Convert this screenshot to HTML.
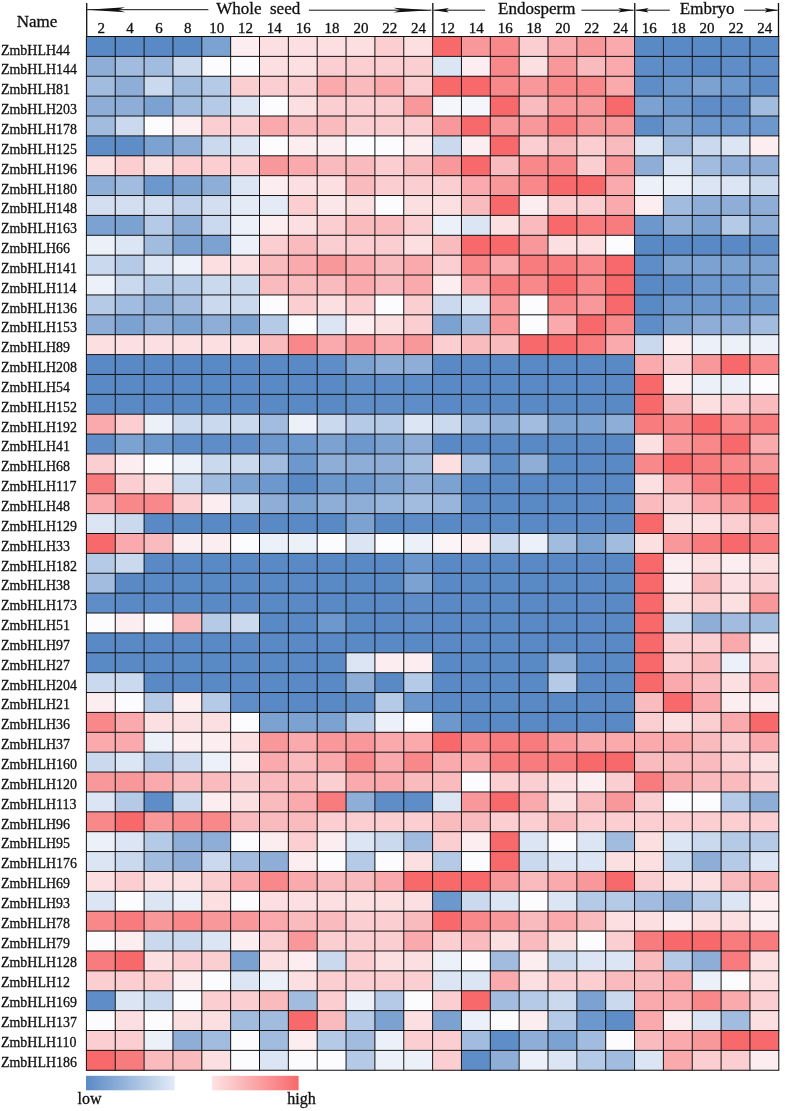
<!DOCTYPE html>
<html><head><meta charset="utf-8"><title>ZmbHLH expression heatmap</title>
<style>
html,body{margin:0;padding:0;background:#fff;}
body{width:785px;height:1111px;overflow:hidden;position:relative;font-family:"Liberation Serif","Times New Roman",serif;color:#111;}
svg{position:absolute;left:0;top:0;display:block;}
text{font-family:"Liberation Serif","Times New Roman",serif;fill:#111;stroke:#111;stroke-width:0.3px;}
.rl{font-size:15.1px;}
.hn{font-size:15px;text-anchor:middle;}
.gl{font-size:17px;}
.lg{font-size:16px;}
</style></head><body>
<svg width="785" height="1111" viewBox="0 0 785 1111">
<defs>
<linearGradient id="gb" x1="0" x2="1" y1="0" y2="0"><stop offset="0" stop-color="#5a8ac6"/><stop offset="1" stop-color="#e3ebf7"/></linearGradient>
<linearGradient id="gr" x1="0" x2="1" y1="0" y2="0"><stop offset="0" stop-color="#fde3e5"/><stop offset="1" stop-color="#f8696b"/></linearGradient>
</defs>
<rect x="0" y="0" width="785" height="1111" fill="#ffffff"/>

<g shape-rendering="crispEdges">
<rect x="86.40" y="36.50" width="29.15" height="20.18" fill="#5a8ac6"/>
<rect x="115.25" y="36.50" width="29.15" height="20.18" fill="#5a8ac6"/>
<rect x="144.10" y="36.50" width="29.15" height="20.18" fill="#5a8ac6"/>
<rect x="172.95" y="36.50" width="29.15" height="20.18" fill="#5a8ac6"/>
<rect x="201.80" y="36.50" width="29.15" height="20.18" fill="#7ca2d2"/>
<rect x="230.65" y="36.50" width="29.15" height="20.18" fill="#fcedf0"/>
<rect x="259.50" y="36.50" width="29.15" height="20.18" fill="#fbdfe1"/>
<rect x="288.35" y="36.50" width="29.15" height="20.18" fill="#fbdfe1"/>
<rect x="317.20" y="36.50" width="29.15" height="20.18" fill="#fbdfe1"/>
<rect x="346.05" y="36.50" width="29.15" height="20.18" fill="#fbdfe1"/>
<rect x="374.90" y="36.50" width="29.15" height="20.18" fill="#fbced1"/>
<rect x="403.75" y="36.50" width="29.15" height="20.18" fill="#fbdfe1"/>
<rect x="432.60" y="36.50" width="29.15" height="20.18" fill="#f8696b"/>
<rect x="461.45" y="36.50" width="29.15" height="20.18" fill="#f9989a"/>
<rect x="490.30" y="36.50" width="29.15" height="20.18" fill="#f9888a"/>
<rect x="519.15" y="36.50" width="29.15" height="20.18" fill="#fbced1"/>
<rect x="548.00" y="36.50" width="29.15" height="20.18" fill="#faaaac"/>
<rect x="576.85" y="36.50" width="29.15" height="20.18" fill="#f9989a"/>
<rect x="605.70" y="36.50" width="29.15" height="20.18" fill="#faaaac"/>
<rect x="634.55" y="36.50" width="29.15" height="20.18" fill="#5a8ac6"/>
<rect x="663.40" y="36.50" width="29.15" height="20.18" fill="#5a8ac6"/>
<rect x="692.25" y="36.50" width="29.15" height="20.18" fill="#5a8ac6"/>
<rect x="721.10" y="36.50" width="29.15" height="20.18" fill="#5a8ac6"/>
<rect x="749.95" y="36.50" width="29.15" height="20.18" fill="#5a8ac6"/>
<rect x="86.40" y="56.38" width="29.15" height="20.18" fill="#8eaed8"/>
<rect x="115.25" y="56.38" width="29.15" height="20.18" fill="#a1bcdf"/>
<rect x="144.10" y="56.38" width="29.15" height="20.18" fill="#a1bcdf"/>
<rect x="172.95" y="56.38" width="29.15" height="20.18" fill="#cad9ed"/>
<rect x="201.80" y="56.38" width="29.15" height="20.18" fill="#fcfcff"/>
<rect x="230.65" y="56.38" width="29.15" height="20.18" fill="#fcfcff"/>
<rect x="259.50" y="56.38" width="29.15" height="20.18" fill="#fbdfe1"/>
<rect x="288.35" y="56.38" width="29.15" height="20.18" fill="#fbdfe1"/>
<rect x="317.20" y="56.38" width="29.15" height="20.18" fill="#fbced1"/>
<rect x="346.05" y="56.38" width="29.15" height="20.18" fill="#fbced1"/>
<rect x="374.90" y="56.38" width="29.15" height="20.18" fill="#fbced1"/>
<rect x="403.75" y="56.38" width="29.15" height="20.18" fill="#fbced1"/>
<rect x="432.60" y="56.38" width="29.15" height="20.18" fill="#dce5f4"/>
<rect x="461.45" y="56.38" width="29.15" height="20.18" fill="#fcedf0"/>
<rect x="490.30" y="56.38" width="29.15" height="20.18" fill="#f9888a"/>
<rect x="519.15" y="56.38" width="29.15" height="20.18" fill="#fbdfe1"/>
<rect x="548.00" y="56.38" width="29.15" height="20.18" fill="#f9989a"/>
<rect x="576.85" y="56.38" width="29.15" height="20.18" fill="#fabbbe"/>
<rect x="605.70" y="56.38" width="29.15" height="20.18" fill="#faaaac"/>
<rect x="634.55" y="56.38" width="29.15" height="20.18" fill="#5f8dc8"/>
<rect x="663.40" y="56.38" width="29.15" height="20.18" fill="#5f8dc8"/>
<rect x="692.25" y="56.38" width="29.15" height="20.18" fill="#5a8ac6"/>
<rect x="721.10" y="56.38" width="29.15" height="20.18" fill="#5f8dc8"/>
<rect x="749.95" y="56.38" width="29.15" height="20.18" fill="#5f8dc8"/>
<rect x="86.40" y="76.26" width="29.15" height="20.18" fill="#a1bcdf"/>
<rect x="115.25" y="76.26" width="29.15" height="20.18" fill="#8eaed8"/>
<rect x="144.10" y="76.26" width="29.15" height="20.18" fill="#cad9ed"/>
<rect x="172.95" y="76.26" width="29.15" height="20.18" fill="#a1bcdf"/>
<rect x="201.80" y="76.26" width="29.15" height="20.18" fill="#b5cae6"/>
<rect x="230.65" y="76.26" width="29.15" height="20.18" fill="#fbced1"/>
<rect x="259.50" y="76.26" width="29.15" height="20.18" fill="#fbced1"/>
<rect x="288.35" y="76.26" width="29.15" height="20.18" fill="#fbced1"/>
<rect x="317.20" y="76.26" width="29.15" height="20.18" fill="#faaaac"/>
<rect x="346.05" y="76.26" width="29.15" height="20.18" fill="#fabbbe"/>
<rect x="374.90" y="76.26" width="29.15" height="20.18" fill="#faaaac"/>
<rect x="403.75" y="76.26" width="29.15" height="20.18" fill="#fbced1"/>
<rect x="432.60" y="76.26" width="29.15" height="20.18" fill="#f8696b"/>
<rect x="461.45" y="76.26" width="29.15" height="20.18" fill="#f8696b"/>
<rect x="490.30" y="76.26" width="29.15" height="20.18" fill="#f9888a"/>
<rect x="519.15" y="76.26" width="29.15" height="20.18" fill="#f9989a"/>
<rect x="548.00" y="76.26" width="29.15" height="20.18" fill="#f9888a"/>
<rect x="576.85" y="76.26" width="29.15" height="20.18" fill="#f9888a"/>
<rect x="605.70" y="76.26" width="29.15" height="20.18" fill="#faaaac"/>
<rect x="634.55" y="76.26" width="29.15" height="20.18" fill="#5f8dc8"/>
<rect x="663.40" y="76.26" width="29.15" height="20.18" fill="#6d98cd"/>
<rect x="692.25" y="76.26" width="29.15" height="20.18" fill="#7ca2d2"/>
<rect x="721.10" y="76.26" width="29.15" height="20.18" fill="#6d98cd"/>
<rect x="749.95" y="76.26" width="29.15" height="20.18" fill="#5f8dc8"/>
<rect x="86.40" y="96.14" width="29.15" height="20.18" fill="#8eaed8"/>
<rect x="115.25" y="96.14" width="29.15" height="20.18" fill="#8eaed8"/>
<rect x="144.10" y="96.14" width="29.15" height="20.18" fill="#7ca2d2"/>
<rect x="172.95" y="96.14" width="29.15" height="20.18" fill="#a1bcdf"/>
<rect x="201.80" y="96.14" width="29.15" height="20.18" fill="#b5cae6"/>
<rect x="230.65" y="96.14" width="29.15" height="20.18" fill="#dce5f4"/>
<rect x="259.50" y="96.14" width="29.15" height="20.18" fill="#fcfcff"/>
<rect x="288.35" y="96.14" width="29.15" height="20.18" fill="#fbdfe1"/>
<rect x="317.20" y="96.14" width="29.15" height="20.18" fill="#fbced1"/>
<rect x="346.05" y="96.14" width="29.15" height="20.18" fill="#fbced1"/>
<rect x="374.90" y="96.14" width="29.15" height="20.18" fill="#fbced1"/>
<rect x="403.75" y="96.14" width="29.15" height="20.18" fill="#f9989a"/>
<rect x="432.60" y="96.14" width="29.15" height="20.18" fill="#f4f6fc"/>
<rect x="461.45" y="96.14" width="29.15" height="20.18" fill="#f4f6fc"/>
<rect x="490.30" y="96.14" width="29.15" height="20.18" fill="#f8696b"/>
<rect x="519.15" y="96.14" width="29.15" height="20.18" fill="#fabbbe"/>
<rect x="548.00" y="96.14" width="29.15" height="20.18" fill="#f9989a"/>
<rect x="576.85" y="96.14" width="29.15" height="20.18" fill="#f9989a"/>
<rect x="605.70" y="96.14" width="29.15" height="20.18" fill="#f8696b"/>
<rect x="634.55" y="96.14" width="29.15" height="20.18" fill="#7ca2d2"/>
<rect x="663.40" y="96.14" width="29.15" height="20.18" fill="#6d98cd"/>
<rect x="692.25" y="96.14" width="29.15" height="20.18" fill="#5f8dc8"/>
<rect x="721.10" y="96.14" width="29.15" height="20.18" fill="#5f8dc8"/>
<rect x="749.95" y="96.14" width="29.15" height="20.18" fill="#a1bcdf"/>
<rect x="86.40" y="116.02" width="29.15" height="20.18" fill="#a1bcdf"/>
<rect x="115.25" y="116.02" width="29.15" height="20.18" fill="#cad9ed"/>
<rect x="144.10" y="116.02" width="29.15" height="20.18" fill="#fcfcff"/>
<rect x="172.95" y="116.02" width="29.15" height="20.18" fill="#fcedf0"/>
<rect x="201.80" y="116.02" width="29.15" height="20.18" fill="#fbced1"/>
<rect x="230.65" y="116.02" width="29.15" height="20.18" fill="#fbced1"/>
<rect x="259.50" y="116.02" width="29.15" height="20.18" fill="#faaaac"/>
<rect x="288.35" y="116.02" width="29.15" height="20.18" fill="#fabbbe"/>
<rect x="317.20" y="116.02" width="29.15" height="20.18" fill="#fabbbe"/>
<rect x="346.05" y="116.02" width="29.15" height="20.18" fill="#fbced1"/>
<rect x="374.90" y="116.02" width="29.15" height="20.18" fill="#fbced1"/>
<rect x="403.75" y="116.02" width="29.15" height="20.18" fill="#fbced1"/>
<rect x="432.60" y="116.02" width="29.15" height="20.18" fill="#f9989a"/>
<rect x="461.45" y="116.02" width="29.15" height="20.18" fill="#f8696b"/>
<rect x="490.30" y="116.02" width="29.15" height="20.18" fill="#f9989a"/>
<rect x="519.15" y="116.02" width="29.15" height="20.18" fill="#f9989a"/>
<rect x="548.00" y="116.02" width="29.15" height="20.18" fill="#f87b7d"/>
<rect x="576.85" y="116.02" width="29.15" height="20.18" fill="#f9989a"/>
<rect x="605.70" y="116.02" width="29.15" height="20.18" fill="#f9989a"/>
<rect x="634.55" y="116.02" width="29.15" height="20.18" fill="#5f8dc8"/>
<rect x="663.40" y="116.02" width="29.15" height="20.18" fill="#7ca2d2"/>
<rect x="692.25" y="116.02" width="29.15" height="20.18" fill="#6d98cd"/>
<rect x="721.10" y="116.02" width="29.15" height="20.18" fill="#6d98cd"/>
<rect x="749.95" y="116.02" width="29.15" height="20.18" fill="#6d98cd"/>
<rect x="86.40" y="135.90" width="29.15" height="20.18" fill="#5f8dc8"/>
<rect x="115.25" y="135.90" width="29.15" height="20.18" fill="#5f8dc8"/>
<rect x="144.10" y="135.90" width="29.15" height="20.18" fill="#7ca2d2"/>
<rect x="172.95" y="135.90" width="29.15" height="20.18" fill="#8eaed8"/>
<rect x="201.80" y="135.90" width="29.15" height="20.18" fill="#cad9ed"/>
<rect x="230.65" y="135.90" width="29.15" height="20.18" fill="#dce5f4"/>
<rect x="259.50" y="135.90" width="29.15" height="20.18" fill="#fcfcff"/>
<rect x="288.35" y="135.90" width="29.15" height="20.18" fill="#fcedf0"/>
<rect x="317.20" y="135.90" width="29.15" height="20.18" fill="#fcedf0"/>
<rect x="346.05" y="135.90" width="29.15" height="20.18" fill="#fcfcff"/>
<rect x="374.90" y="135.90" width="29.15" height="20.18" fill="#fcfcff"/>
<rect x="403.75" y="135.90" width="29.15" height="20.18" fill="#fcedf0"/>
<rect x="432.60" y="135.90" width="29.15" height="20.18" fill="#cad9ed"/>
<rect x="461.45" y="135.90" width="29.15" height="20.18" fill="#fcedf0"/>
<rect x="490.30" y="135.90" width="29.15" height="20.18" fill="#f8696b"/>
<rect x="519.15" y="135.90" width="29.15" height="20.18" fill="#fbced1"/>
<rect x="548.00" y="135.90" width="29.15" height="20.18" fill="#fabbbe"/>
<rect x="576.85" y="135.90" width="29.15" height="20.18" fill="#fbced1"/>
<rect x="605.70" y="135.90" width="29.15" height="20.18" fill="#fabbbe"/>
<rect x="634.55" y="135.90" width="29.15" height="20.18" fill="#dce5f4"/>
<rect x="663.40" y="135.90" width="29.15" height="20.18" fill="#a1bcdf"/>
<rect x="692.25" y="135.90" width="29.15" height="20.18" fill="#cad9ed"/>
<rect x="721.10" y="135.90" width="29.15" height="20.18" fill="#dce5f4"/>
<rect x="749.95" y="135.90" width="29.15" height="20.18" fill="#fcedf0"/>
<rect x="86.40" y="155.78" width="29.15" height="20.18" fill="#fbdfe1"/>
<rect x="115.25" y="155.78" width="29.15" height="20.18" fill="#fbced1"/>
<rect x="144.10" y="155.78" width="29.15" height="20.18" fill="#fbdfe1"/>
<rect x="172.95" y="155.78" width="29.15" height="20.18" fill="#fbced1"/>
<rect x="201.80" y="155.78" width="29.15" height="20.18" fill="#fbced1"/>
<rect x="230.65" y="155.78" width="29.15" height="20.18" fill="#fbced1"/>
<rect x="259.50" y="155.78" width="29.15" height="20.18" fill="#f9989a"/>
<rect x="288.35" y="155.78" width="29.15" height="20.18" fill="#faaaac"/>
<rect x="317.20" y="155.78" width="29.15" height="20.18" fill="#fabbbe"/>
<rect x="346.05" y="155.78" width="29.15" height="20.18" fill="#fabbbe"/>
<rect x="374.90" y="155.78" width="29.15" height="20.18" fill="#fbced1"/>
<rect x="403.75" y="155.78" width="29.15" height="20.18" fill="#fabbbe"/>
<rect x="432.60" y="155.78" width="29.15" height="20.18" fill="#f9989a"/>
<rect x="461.45" y="155.78" width="29.15" height="20.18" fill="#f8696b"/>
<rect x="490.30" y="155.78" width="29.15" height="20.18" fill="#fabbbe"/>
<rect x="519.15" y="155.78" width="29.15" height="20.18" fill="#f9888a"/>
<rect x="548.00" y="155.78" width="29.15" height="20.18" fill="#f9888a"/>
<rect x="576.85" y="155.78" width="29.15" height="20.18" fill="#fbced1"/>
<rect x="605.70" y="155.78" width="29.15" height="20.18" fill="#f9989a"/>
<rect x="634.55" y="155.78" width="29.15" height="20.18" fill="#8eaed8"/>
<rect x="663.40" y="155.78" width="29.15" height="20.18" fill="#dce5f4"/>
<rect x="692.25" y="155.78" width="29.15" height="20.18" fill="#a1bcdf"/>
<rect x="721.10" y="155.78" width="29.15" height="20.18" fill="#8eaed8"/>
<rect x="749.95" y="155.78" width="29.15" height="20.18" fill="#8eaed8"/>
<rect x="86.40" y="175.66" width="29.15" height="20.18" fill="#8eaed8"/>
<rect x="115.25" y="175.66" width="29.15" height="20.18" fill="#a1bcdf"/>
<rect x="144.10" y="175.66" width="29.15" height="20.18" fill="#6d98cd"/>
<rect x="172.95" y="175.66" width="29.15" height="20.18" fill="#7ca2d2"/>
<rect x="201.80" y="175.66" width="29.15" height="20.18" fill="#8eaed8"/>
<rect x="230.65" y="175.66" width="29.15" height="20.18" fill="#dce5f4"/>
<rect x="259.50" y="175.66" width="29.15" height="20.18" fill="#fcedf0"/>
<rect x="288.35" y="175.66" width="29.15" height="20.18" fill="#fbdfe1"/>
<rect x="317.20" y="175.66" width="29.15" height="20.18" fill="#fbdfe1"/>
<rect x="346.05" y="175.66" width="29.15" height="20.18" fill="#fabbbe"/>
<rect x="374.90" y="175.66" width="29.15" height="20.18" fill="#fbced1"/>
<rect x="403.75" y="175.66" width="29.15" height="20.18" fill="#fbced1"/>
<rect x="432.60" y="175.66" width="29.15" height="20.18" fill="#fbced1"/>
<rect x="461.45" y="175.66" width="29.15" height="20.18" fill="#faaaac"/>
<rect x="490.30" y="175.66" width="29.15" height="20.18" fill="#f9989a"/>
<rect x="519.15" y="175.66" width="29.15" height="20.18" fill="#f9888a"/>
<rect x="548.00" y="175.66" width="29.15" height="20.18" fill="#f8696b"/>
<rect x="576.85" y="175.66" width="29.15" height="20.18" fill="#f8696b"/>
<rect x="605.70" y="175.66" width="29.15" height="20.18" fill="#faaaac"/>
<rect x="634.55" y="175.66" width="29.15" height="20.18" fill="#ecf1f9"/>
<rect x="663.40" y="175.66" width="29.15" height="20.18" fill="#ecf1f9"/>
<rect x="692.25" y="175.66" width="29.15" height="20.18" fill="#dce5f4"/>
<rect x="721.10" y="175.66" width="29.15" height="20.18" fill="#dce5f4"/>
<rect x="749.95" y="175.66" width="29.15" height="20.18" fill="#cad9ed"/>
<rect x="86.40" y="195.54" width="29.15" height="20.18" fill="#d3dff0"/>
<rect x="115.25" y="195.54" width="29.15" height="20.18" fill="#d3dff0"/>
<rect x="144.10" y="195.54" width="29.15" height="20.18" fill="#d3dff0"/>
<rect x="172.95" y="195.54" width="29.15" height="20.18" fill="#bfd1ea"/>
<rect x="201.80" y="195.54" width="29.15" height="20.18" fill="#d3dff0"/>
<rect x="230.65" y="195.54" width="29.15" height="20.18" fill="#e4ebf6"/>
<rect x="259.50" y="195.54" width="29.15" height="20.18" fill="#e4ebf6"/>
<rect x="288.35" y="195.54" width="29.15" height="20.18" fill="#fbced1"/>
<rect x="317.20" y="195.54" width="29.15" height="20.18" fill="#fbe6e9"/>
<rect x="346.05" y="195.54" width="29.15" height="20.18" fill="#fbdfe1"/>
<rect x="374.90" y="195.54" width="29.15" height="20.18" fill="#fcfcff"/>
<rect x="403.75" y="195.54" width="29.15" height="20.18" fill="#fbdfe1"/>
<rect x="432.60" y="195.54" width="29.15" height="20.18" fill="#fbdfe1"/>
<rect x="461.45" y="195.54" width="29.15" height="20.18" fill="#fabbbe"/>
<rect x="490.30" y="195.54" width="29.15" height="20.18" fill="#f8696b"/>
<rect x="519.15" y="195.54" width="29.15" height="20.18" fill="#fcedf0"/>
<rect x="548.00" y="195.54" width="29.15" height="20.18" fill="#fbced1"/>
<rect x="576.85" y="195.54" width="29.15" height="20.18" fill="#fbced1"/>
<rect x="605.70" y="195.54" width="29.15" height="20.18" fill="#faaaac"/>
<rect x="634.55" y="195.54" width="29.15" height="20.18" fill="#fcedf0"/>
<rect x="663.40" y="195.54" width="29.15" height="20.18" fill="#a1bcdf"/>
<rect x="692.25" y="195.54" width="29.15" height="20.18" fill="#8eaed8"/>
<rect x="721.10" y="195.54" width="29.15" height="20.18" fill="#8eaed8"/>
<rect x="749.95" y="195.54" width="29.15" height="20.18" fill="#8eaed8"/>
<rect x="86.40" y="215.42" width="29.15" height="20.18" fill="#7ca2d2"/>
<rect x="115.25" y="215.42" width="29.15" height="20.18" fill="#7ca2d2"/>
<rect x="144.10" y="215.42" width="29.15" height="20.18" fill="#b5cae6"/>
<rect x="172.95" y="215.42" width="29.15" height="20.18" fill="#8eaed8"/>
<rect x="201.80" y="215.42" width="29.15" height="20.18" fill="#cad9ed"/>
<rect x="230.65" y="215.42" width="29.15" height="20.18" fill="#ecf1f9"/>
<rect x="259.50" y="215.42" width="29.15" height="20.18" fill="#fcedf0"/>
<rect x="288.35" y="215.42" width="29.15" height="20.18" fill="#fbdfe1"/>
<rect x="317.20" y="215.42" width="29.15" height="20.18" fill="#fbced1"/>
<rect x="346.05" y="215.42" width="29.15" height="20.18" fill="#fabbbe"/>
<rect x="374.90" y="215.42" width="29.15" height="20.18" fill="#fabbbe"/>
<rect x="403.75" y="215.42" width="29.15" height="20.18" fill="#fbced1"/>
<rect x="432.60" y="215.42" width="29.15" height="20.18" fill="#ecf1f9"/>
<rect x="461.45" y="215.42" width="29.15" height="20.18" fill="#dce5f4"/>
<rect x="490.30" y="215.42" width="29.15" height="20.18" fill="#fbdfe1"/>
<rect x="519.15" y="215.42" width="29.15" height="20.18" fill="#fabbbe"/>
<rect x="548.00" y="215.42" width="29.15" height="20.18" fill="#f8696b"/>
<rect x="576.85" y="215.42" width="29.15" height="20.18" fill="#f87b7d"/>
<rect x="605.70" y="215.42" width="29.15" height="20.18" fill="#f87b7d"/>
<rect x="634.55" y="215.42" width="29.15" height="20.18" fill="#6d98cd"/>
<rect x="663.40" y="215.42" width="29.15" height="20.18" fill="#8eaed8"/>
<rect x="692.25" y="215.42" width="29.15" height="20.18" fill="#7ca2d2"/>
<rect x="721.10" y="215.42" width="29.15" height="20.18" fill="#b5cae6"/>
<rect x="749.95" y="215.42" width="29.15" height="20.18" fill="#8eaed8"/>
<rect x="86.40" y="235.30" width="29.15" height="20.18" fill="#ecf1f9"/>
<rect x="115.25" y="235.30" width="29.15" height="20.18" fill="#dce5f4"/>
<rect x="144.10" y="235.30" width="29.15" height="20.18" fill="#a1bcdf"/>
<rect x="172.95" y="235.30" width="29.15" height="20.18" fill="#7ca2d2"/>
<rect x="201.80" y="235.30" width="29.15" height="20.18" fill="#7ca2d2"/>
<rect x="230.65" y="235.30" width="29.15" height="20.18" fill="#ecf1f9"/>
<rect x="259.50" y="235.30" width="29.15" height="20.18" fill="#fbced1"/>
<rect x="288.35" y="235.30" width="29.15" height="20.18" fill="#fabbbe"/>
<rect x="317.20" y="235.30" width="29.15" height="20.18" fill="#fbced1"/>
<rect x="346.05" y="235.30" width="29.15" height="20.18" fill="#fbced1"/>
<rect x="374.90" y="235.30" width="29.15" height="20.18" fill="#fbced1"/>
<rect x="403.75" y="235.30" width="29.15" height="20.18" fill="#fbdfe1"/>
<rect x="432.60" y="235.30" width="29.15" height="20.18" fill="#fabbbe"/>
<rect x="461.45" y="235.30" width="29.15" height="20.18" fill="#f8696b"/>
<rect x="490.30" y="235.30" width="29.15" height="20.18" fill="#f8696b"/>
<rect x="519.15" y="235.30" width="29.15" height="20.18" fill="#f9989a"/>
<rect x="548.00" y="235.30" width="29.15" height="20.18" fill="#fbdfe1"/>
<rect x="576.85" y="235.30" width="29.15" height="20.18" fill="#fbdfe1"/>
<rect x="605.70" y="235.30" width="29.15" height="20.18" fill="#fcfcff"/>
<rect x="634.55" y="235.30" width="29.15" height="20.18" fill="#5a8ac6"/>
<rect x="663.40" y="235.30" width="29.15" height="20.18" fill="#5a8ac6"/>
<rect x="692.25" y="235.30" width="29.15" height="20.18" fill="#5a8ac6"/>
<rect x="721.10" y="235.30" width="29.15" height="20.18" fill="#5a8ac6"/>
<rect x="749.95" y="235.30" width="29.15" height="20.18" fill="#5f8dc8"/>
<rect x="86.40" y="255.18" width="29.15" height="20.18" fill="#cad9ed"/>
<rect x="115.25" y="255.18" width="29.15" height="20.18" fill="#b5cae6"/>
<rect x="144.10" y="255.18" width="29.15" height="20.18" fill="#dce5f4"/>
<rect x="172.95" y="255.18" width="29.15" height="20.18" fill="#ecf1f9"/>
<rect x="201.80" y="255.18" width="29.15" height="20.18" fill="#fbdfe1"/>
<rect x="230.65" y="255.18" width="29.15" height="20.18" fill="#fbdfe1"/>
<rect x="259.50" y="255.18" width="29.15" height="20.18" fill="#fabbbe"/>
<rect x="288.35" y="255.18" width="29.15" height="20.18" fill="#faaaac"/>
<rect x="317.20" y="255.18" width="29.15" height="20.18" fill="#f9989a"/>
<rect x="346.05" y="255.18" width="29.15" height="20.18" fill="#faaaac"/>
<rect x="374.90" y="255.18" width="29.15" height="20.18" fill="#fabbbe"/>
<rect x="403.75" y="255.18" width="29.15" height="20.18" fill="#faaaac"/>
<rect x="432.60" y="255.18" width="29.15" height="20.18" fill="#fbced1"/>
<rect x="461.45" y="255.18" width="29.15" height="20.18" fill="#f9888a"/>
<rect x="490.30" y="255.18" width="29.15" height="20.18" fill="#faaaac"/>
<rect x="519.15" y="255.18" width="29.15" height="20.18" fill="#f87b7d"/>
<rect x="548.00" y="255.18" width="29.15" height="20.18" fill="#f87b7d"/>
<rect x="576.85" y="255.18" width="29.15" height="20.18" fill="#f9888a"/>
<rect x="605.70" y="255.18" width="29.15" height="20.18" fill="#f8696b"/>
<rect x="634.55" y="255.18" width="29.15" height="20.18" fill="#5f8dc8"/>
<rect x="663.40" y="255.18" width="29.15" height="20.18" fill="#7ca2d2"/>
<rect x="692.25" y="255.18" width="29.15" height="20.18" fill="#7ca2d2"/>
<rect x="721.10" y="255.18" width="29.15" height="20.18" fill="#7ca2d2"/>
<rect x="749.95" y="255.18" width="29.15" height="20.18" fill="#7ca2d2"/>
<rect x="86.40" y="275.06" width="29.15" height="20.18" fill="#ecf1f9"/>
<rect x="115.25" y="275.06" width="29.15" height="20.18" fill="#cad9ed"/>
<rect x="144.10" y="275.06" width="29.15" height="20.18" fill="#b5cae6"/>
<rect x="172.95" y="275.06" width="29.15" height="20.18" fill="#b5cae6"/>
<rect x="201.80" y="275.06" width="29.15" height="20.18" fill="#cad9ed"/>
<rect x="230.65" y="275.06" width="29.15" height="20.18" fill="#cad9ed"/>
<rect x="259.50" y="275.06" width="29.15" height="20.18" fill="#fabbbe"/>
<rect x="288.35" y="275.06" width="29.15" height="20.18" fill="#fabbbe"/>
<rect x="317.20" y="275.06" width="29.15" height="20.18" fill="#fabbbe"/>
<rect x="346.05" y="275.06" width="29.15" height="20.18" fill="#faaaac"/>
<rect x="374.90" y="275.06" width="29.15" height="20.18" fill="#fabbbe"/>
<rect x="403.75" y="275.06" width="29.15" height="20.18" fill="#faaaac"/>
<rect x="432.60" y="275.06" width="29.15" height="20.18" fill="#fcedf0"/>
<rect x="461.45" y="275.06" width="29.15" height="20.18" fill="#faaaac"/>
<rect x="490.30" y="275.06" width="29.15" height="20.18" fill="#f87b7d"/>
<rect x="519.15" y="275.06" width="29.15" height="20.18" fill="#f9888a"/>
<rect x="548.00" y="275.06" width="29.15" height="20.18" fill="#f8696b"/>
<rect x="576.85" y="275.06" width="29.15" height="20.18" fill="#f9888a"/>
<rect x="605.70" y="275.06" width="29.15" height="20.18" fill="#f8696b"/>
<rect x="634.55" y="275.06" width="29.15" height="20.18" fill="#5a8ac6"/>
<rect x="663.40" y="275.06" width="29.15" height="20.18" fill="#5f8dc8"/>
<rect x="692.25" y="275.06" width="29.15" height="20.18" fill="#6d98cd"/>
<rect x="721.10" y="275.06" width="29.15" height="20.18" fill="#6d98cd"/>
<rect x="749.95" y="275.06" width="29.15" height="20.18" fill="#7ca2d2"/>
<rect x="86.40" y="294.94" width="29.15" height="20.18" fill="#b5cae6"/>
<rect x="115.25" y="294.94" width="29.15" height="20.18" fill="#a1bcdf"/>
<rect x="144.10" y="294.94" width="29.15" height="20.18" fill="#8eaed8"/>
<rect x="172.95" y="294.94" width="29.15" height="20.18" fill="#a1bcdf"/>
<rect x="201.80" y="294.94" width="29.15" height="20.18" fill="#cad9ed"/>
<rect x="230.65" y="294.94" width="29.15" height="20.18" fill="#cad9ed"/>
<rect x="259.50" y="294.94" width="29.15" height="20.18" fill="#fcfcff"/>
<rect x="288.35" y="294.94" width="29.15" height="20.18" fill="#fbced1"/>
<rect x="317.20" y="294.94" width="29.15" height="20.18" fill="#fbdfe1"/>
<rect x="346.05" y="294.94" width="29.15" height="20.18" fill="#fbced1"/>
<rect x="374.90" y="294.94" width="29.15" height="20.18" fill="#fcfcff"/>
<rect x="403.75" y="294.94" width="29.15" height="20.18" fill="#fbced1"/>
<rect x="432.60" y="294.94" width="29.15" height="20.18" fill="#cad9ed"/>
<rect x="461.45" y="294.94" width="29.15" height="20.18" fill="#dce5f4"/>
<rect x="490.30" y="294.94" width="29.15" height="20.18" fill="#f9989a"/>
<rect x="519.15" y="294.94" width="29.15" height="20.18" fill="#fcfcff"/>
<rect x="548.00" y="294.94" width="29.15" height="20.18" fill="#f9888a"/>
<rect x="576.85" y="294.94" width="29.15" height="20.18" fill="#f9989a"/>
<rect x="605.70" y="294.94" width="29.15" height="20.18" fill="#f8696b"/>
<rect x="634.55" y="294.94" width="29.15" height="20.18" fill="#5a8ac6"/>
<rect x="663.40" y="294.94" width="29.15" height="20.18" fill="#6d98cd"/>
<rect x="692.25" y="294.94" width="29.15" height="20.18" fill="#6d98cd"/>
<rect x="721.10" y="294.94" width="29.15" height="20.18" fill="#6d98cd"/>
<rect x="749.95" y="294.94" width="29.15" height="20.18" fill="#6d98cd"/>
<rect x="86.40" y="314.82" width="29.15" height="20.18" fill="#8eaed8"/>
<rect x="115.25" y="314.82" width="29.15" height="20.18" fill="#7ca2d2"/>
<rect x="144.10" y="314.82" width="29.15" height="20.18" fill="#8eaed8"/>
<rect x="172.95" y="314.82" width="29.15" height="20.18" fill="#7ca2d2"/>
<rect x="201.80" y="314.82" width="29.15" height="20.18" fill="#8eaed8"/>
<rect x="230.65" y="314.82" width="29.15" height="20.18" fill="#7ca2d2"/>
<rect x="259.50" y="314.82" width="29.15" height="20.18" fill="#b5cae6"/>
<rect x="288.35" y="314.82" width="29.15" height="20.18" fill="#fcfcff"/>
<rect x="317.20" y="314.82" width="29.15" height="20.18" fill="#dce5f4"/>
<rect x="346.05" y="314.82" width="29.15" height="20.18" fill="#fcedf0"/>
<rect x="374.90" y="314.82" width="29.15" height="20.18" fill="#fbdfe1"/>
<rect x="403.75" y="314.82" width="29.15" height="20.18" fill="#fbced1"/>
<rect x="432.60" y="314.82" width="29.15" height="20.18" fill="#7ca2d2"/>
<rect x="461.45" y="314.82" width="29.15" height="20.18" fill="#a1bcdf"/>
<rect x="490.30" y="314.82" width="29.15" height="20.18" fill="#f9989a"/>
<rect x="519.15" y="314.82" width="29.15" height="20.18" fill="#fcfcff"/>
<rect x="548.00" y="314.82" width="29.15" height="20.18" fill="#faaaac"/>
<rect x="576.85" y="314.82" width="29.15" height="20.18" fill="#f8696b"/>
<rect x="605.70" y="314.82" width="29.15" height="20.18" fill="#f9888a"/>
<rect x="634.55" y="314.82" width="29.15" height="20.18" fill="#5f8dc8"/>
<rect x="663.40" y="314.82" width="29.15" height="20.18" fill="#7ca2d2"/>
<rect x="692.25" y="314.82" width="29.15" height="20.18" fill="#8eaed8"/>
<rect x="721.10" y="314.82" width="29.15" height="20.18" fill="#8eaed8"/>
<rect x="749.95" y="314.82" width="29.15" height="20.18" fill="#a1bcdf"/>
<rect x="86.40" y="334.70" width="29.15" height="20.18" fill="#fbdfe1"/>
<rect x="115.25" y="334.70" width="29.15" height="20.18" fill="#fbdfe1"/>
<rect x="144.10" y="334.70" width="29.15" height="20.18" fill="#fbdfe1"/>
<rect x="172.95" y="334.70" width="29.15" height="20.18" fill="#fbdfe1"/>
<rect x="201.80" y="334.70" width="29.15" height="20.18" fill="#fbdfe1"/>
<rect x="230.65" y="334.70" width="29.15" height="20.18" fill="#fbdfe1"/>
<rect x="259.50" y="334.70" width="29.15" height="20.18" fill="#fabbbe"/>
<rect x="288.35" y="334.70" width="29.15" height="20.18" fill="#f9888a"/>
<rect x="317.20" y="334.70" width="29.15" height="20.18" fill="#faaaac"/>
<rect x="346.05" y="334.70" width="29.15" height="20.18" fill="#f9989a"/>
<rect x="374.90" y="334.70" width="29.15" height="20.18" fill="#faaaac"/>
<rect x="403.75" y="334.70" width="29.15" height="20.18" fill="#f9989a"/>
<rect x="432.60" y="334.70" width="29.15" height="20.18" fill="#fbced1"/>
<rect x="461.45" y="334.70" width="29.15" height="20.18" fill="#fabbbe"/>
<rect x="490.30" y="334.70" width="29.15" height="20.18" fill="#fabbbe"/>
<rect x="519.15" y="334.70" width="29.15" height="20.18" fill="#f8696b"/>
<rect x="548.00" y="334.70" width="29.15" height="20.18" fill="#f8696b"/>
<rect x="576.85" y="334.70" width="29.15" height="20.18" fill="#f87b7d"/>
<rect x="605.70" y="334.70" width="29.15" height="20.18" fill="#faaaac"/>
<rect x="634.55" y="334.70" width="29.15" height="20.18" fill="#cad9ed"/>
<rect x="663.40" y="334.70" width="29.15" height="20.18" fill="#fcedf0"/>
<rect x="692.25" y="334.70" width="29.15" height="20.18" fill="#ecf1f9"/>
<rect x="721.10" y="334.70" width="29.15" height="20.18" fill="#ecf1f9"/>
<rect x="749.95" y="334.70" width="29.15" height="20.18" fill="#ecf1f9"/>
<rect x="86.40" y="354.58" width="29.15" height="20.18" fill="#5a8ac6"/>
<rect x="115.25" y="354.58" width="29.15" height="20.18" fill="#5a8ac6"/>
<rect x="144.10" y="354.58" width="29.15" height="20.18" fill="#5a8ac6"/>
<rect x="172.95" y="354.58" width="29.15" height="20.18" fill="#5a8ac6"/>
<rect x="201.80" y="354.58" width="29.15" height="20.18" fill="#5a8ac6"/>
<rect x="230.65" y="354.58" width="29.15" height="20.18" fill="#5a8ac6"/>
<rect x="259.50" y="354.58" width="29.15" height="20.18" fill="#5a8ac6"/>
<rect x="288.35" y="354.58" width="29.15" height="20.18" fill="#5a8ac6"/>
<rect x="317.20" y="354.58" width="29.15" height="20.18" fill="#5f8dc8"/>
<rect x="346.05" y="354.58" width="29.15" height="20.18" fill="#7ca2d2"/>
<rect x="374.90" y="354.58" width="29.15" height="20.18" fill="#8eaed8"/>
<rect x="403.75" y="354.58" width="29.15" height="20.18" fill="#8eaed8"/>
<rect x="432.60" y="354.58" width="29.15" height="20.18" fill="#5a8ac6"/>
<rect x="461.45" y="354.58" width="29.15" height="20.18" fill="#5a8ac6"/>
<rect x="490.30" y="354.58" width="29.15" height="20.18" fill="#5a8ac6"/>
<rect x="519.15" y="354.58" width="29.15" height="20.18" fill="#5a8ac6"/>
<rect x="548.00" y="354.58" width="29.15" height="20.18" fill="#5a8ac6"/>
<rect x="576.85" y="354.58" width="29.15" height="20.18" fill="#5a8ac6"/>
<rect x="605.70" y="354.58" width="29.15" height="20.18" fill="#5a8ac6"/>
<rect x="634.55" y="354.58" width="29.15" height="20.18" fill="#faaaac"/>
<rect x="663.40" y="354.58" width="29.15" height="20.18" fill="#fbced1"/>
<rect x="692.25" y="354.58" width="29.15" height="20.18" fill="#f9989a"/>
<rect x="721.10" y="354.58" width="29.15" height="20.18" fill="#f8696b"/>
<rect x="749.95" y="354.58" width="29.15" height="20.18" fill="#f9888a"/>
<rect x="86.40" y="374.46" width="29.15" height="20.18" fill="#5a8ac6"/>
<rect x="115.25" y="374.46" width="29.15" height="20.18" fill="#5a8ac6"/>
<rect x="144.10" y="374.46" width="29.15" height="20.18" fill="#5a8ac6"/>
<rect x="172.95" y="374.46" width="29.15" height="20.18" fill="#5a8ac6"/>
<rect x="201.80" y="374.46" width="29.15" height="20.18" fill="#5a8ac6"/>
<rect x="230.65" y="374.46" width="29.15" height="20.18" fill="#5a8ac6"/>
<rect x="259.50" y="374.46" width="29.15" height="20.18" fill="#5a8ac6"/>
<rect x="288.35" y="374.46" width="29.15" height="20.18" fill="#5a8ac6"/>
<rect x="317.20" y="374.46" width="29.15" height="20.18" fill="#5a8ac6"/>
<rect x="346.05" y="374.46" width="29.15" height="20.18" fill="#5f8dc8"/>
<rect x="374.90" y="374.46" width="29.15" height="20.18" fill="#5f8dc8"/>
<rect x="403.75" y="374.46" width="29.15" height="20.18" fill="#5f8dc8"/>
<rect x="432.60" y="374.46" width="29.15" height="20.18" fill="#5a8ac6"/>
<rect x="461.45" y="374.46" width="29.15" height="20.18" fill="#5a8ac6"/>
<rect x="490.30" y="374.46" width="29.15" height="20.18" fill="#5a8ac6"/>
<rect x="519.15" y="374.46" width="29.15" height="20.18" fill="#5a8ac6"/>
<rect x="548.00" y="374.46" width="29.15" height="20.18" fill="#5a8ac6"/>
<rect x="576.85" y="374.46" width="29.15" height="20.18" fill="#5a8ac6"/>
<rect x="605.70" y="374.46" width="29.15" height="20.18" fill="#5a8ac6"/>
<rect x="634.55" y="374.46" width="29.15" height="20.18" fill="#f8696b"/>
<rect x="663.40" y="374.46" width="29.15" height="20.18" fill="#fcedf0"/>
<rect x="692.25" y="374.46" width="29.15" height="20.18" fill="#ecf1f9"/>
<rect x="721.10" y="374.46" width="29.15" height="20.18" fill="#ecf1f9"/>
<rect x="749.95" y="374.46" width="29.15" height="20.18" fill="#fcfcff"/>
<rect x="86.40" y="394.34" width="29.15" height="20.18" fill="#5a8ac6"/>
<rect x="115.25" y="394.34" width="29.15" height="20.18" fill="#5a8ac6"/>
<rect x="144.10" y="394.34" width="29.15" height="20.18" fill="#5a8ac6"/>
<rect x="172.95" y="394.34" width="29.15" height="20.18" fill="#5a8ac6"/>
<rect x="201.80" y="394.34" width="29.15" height="20.18" fill="#5a8ac6"/>
<rect x="230.65" y="394.34" width="29.15" height="20.18" fill="#5a8ac6"/>
<rect x="259.50" y="394.34" width="29.15" height="20.18" fill="#5a8ac6"/>
<rect x="288.35" y="394.34" width="29.15" height="20.18" fill="#5a8ac6"/>
<rect x="317.20" y="394.34" width="29.15" height="20.18" fill="#5a8ac6"/>
<rect x="346.05" y="394.34" width="29.15" height="20.18" fill="#5f8dc8"/>
<rect x="374.90" y="394.34" width="29.15" height="20.18" fill="#5f8dc8"/>
<rect x="403.75" y="394.34" width="29.15" height="20.18" fill="#5f8dc8"/>
<rect x="432.60" y="394.34" width="29.15" height="20.18" fill="#5a8ac6"/>
<rect x="461.45" y="394.34" width="29.15" height="20.18" fill="#5a8ac6"/>
<rect x="490.30" y="394.34" width="29.15" height="20.18" fill="#5a8ac6"/>
<rect x="519.15" y="394.34" width="29.15" height="20.18" fill="#5a8ac6"/>
<rect x="548.00" y="394.34" width="29.15" height="20.18" fill="#5a8ac6"/>
<rect x="576.85" y="394.34" width="29.15" height="20.18" fill="#5a8ac6"/>
<rect x="605.70" y="394.34" width="29.15" height="20.18" fill="#5a8ac6"/>
<rect x="634.55" y="394.34" width="29.15" height="20.18" fill="#f8696b"/>
<rect x="663.40" y="394.34" width="29.15" height="20.18" fill="#fabbbe"/>
<rect x="692.25" y="394.34" width="29.15" height="20.18" fill="#fbdfe1"/>
<rect x="721.10" y="394.34" width="29.15" height="20.18" fill="#fbced1"/>
<rect x="749.95" y="394.34" width="29.15" height="20.18" fill="#fabbbe"/>
<rect x="86.40" y="414.22" width="29.15" height="20.18" fill="#faaaac"/>
<rect x="115.25" y="414.22" width="29.15" height="20.18" fill="#fbced1"/>
<rect x="144.10" y="414.22" width="29.15" height="20.18" fill="#ecf1f9"/>
<rect x="172.95" y="414.22" width="29.15" height="20.18" fill="#cad9ed"/>
<rect x="201.80" y="414.22" width="29.15" height="20.18" fill="#cad9ed"/>
<rect x="230.65" y="414.22" width="29.15" height="20.18" fill="#cad9ed"/>
<rect x="259.50" y="414.22" width="29.15" height="20.18" fill="#a1bcdf"/>
<rect x="288.35" y="414.22" width="29.15" height="20.18" fill="#ecf1f9"/>
<rect x="317.20" y="414.22" width="29.15" height="20.18" fill="#cad9ed"/>
<rect x="346.05" y="414.22" width="29.15" height="20.18" fill="#b5cae6"/>
<rect x="374.90" y="414.22" width="29.15" height="20.18" fill="#b5cae6"/>
<rect x="403.75" y="414.22" width="29.15" height="20.18" fill="#dce5f4"/>
<rect x="432.60" y="414.22" width="29.15" height="20.18" fill="#cad9ed"/>
<rect x="461.45" y="414.22" width="29.15" height="20.18" fill="#a1bcdf"/>
<rect x="490.30" y="414.22" width="29.15" height="20.18" fill="#8eaed8"/>
<rect x="519.15" y="414.22" width="29.15" height="20.18" fill="#a1bcdf"/>
<rect x="548.00" y="414.22" width="29.15" height="20.18" fill="#7ca2d2"/>
<rect x="576.85" y="414.22" width="29.15" height="20.18" fill="#7ca2d2"/>
<rect x="605.70" y="414.22" width="29.15" height="20.18" fill="#8eaed8"/>
<rect x="634.55" y="414.22" width="29.15" height="20.18" fill="#f87b7d"/>
<rect x="663.40" y="414.22" width="29.15" height="20.18" fill="#f9888a"/>
<rect x="692.25" y="414.22" width="29.15" height="20.18" fill="#f8696b"/>
<rect x="721.10" y="414.22" width="29.15" height="20.18" fill="#f9888a"/>
<rect x="749.95" y="414.22" width="29.15" height="20.18" fill="#f87b7d"/>
<rect x="86.40" y="434.10" width="29.15" height="20.18" fill="#5f8dc8"/>
<rect x="115.25" y="434.10" width="29.15" height="20.18" fill="#7ca2d2"/>
<rect x="144.10" y="434.10" width="29.15" height="20.18" fill="#6d98cd"/>
<rect x="172.95" y="434.10" width="29.15" height="20.18" fill="#5f8dc8"/>
<rect x="201.80" y="434.10" width="29.15" height="20.18" fill="#5f8dc8"/>
<rect x="230.65" y="434.10" width="29.15" height="20.18" fill="#5f8dc8"/>
<rect x="259.50" y="434.10" width="29.15" height="20.18" fill="#6d98cd"/>
<rect x="288.35" y="434.10" width="29.15" height="20.18" fill="#6d98cd"/>
<rect x="317.20" y="434.10" width="29.15" height="20.18" fill="#7ca2d2"/>
<rect x="346.05" y="434.10" width="29.15" height="20.18" fill="#6d98cd"/>
<rect x="374.90" y="434.10" width="29.15" height="20.18" fill="#7ca2d2"/>
<rect x="403.75" y="434.10" width="29.15" height="20.18" fill="#8eaed8"/>
<rect x="432.60" y="434.10" width="29.15" height="20.18" fill="#5a8ac6"/>
<rect x="461.45" y="434.10" width="29.15" height="20.18" fill="#5a8ac6"/>
<rect x="490.30" y="434.10" width="29.15" height="20.18" fill="#5a8ac6"/>
<rect x="519.15" y="434.10" width="29.15" height="20.18" fill="#5a8ac6"/>
<rect x="548.00" y="434.10" width="29.15" height="20.18" fill="#5a8ac6"/>
<rect x="576.85" y="434.10" width="29.15" height="20.18" fill="#5a8ac6"/>
<rect x="605.70" y="434.10" width="29.15" height="20.18" fill="#5a8ac6"/>
<rect x="634.55" y="434.10" width="29.15" height="20.18" fill="#fbdfe1"/>
<rect x="663.40" y="434.10" width="29.15" height="20.18" fill="#f9989a"/>
<rect x="692.25" y="434.10" width="29.15" height="20.18" fill="#f9888a"/>
<rect x="721.10" y="434.10" width="29.15" height="20.18" fill="#f8696b"/>
<rect x="749.95" y="434.10" width="29.15" height="20.18" fill="#faaaac"/>
<rect x="86.40" y="453.98" width="29.15" height="20.18" fill="#fbced1"/>
<rect x="115.25" y="453.98" width="29.15" height="20.18" fill="#fcedf0"/>
<rect x="144.10" y="453.98" width="29.15" height="20.18" fill="#fcfcff"/>
<rect x="172.95" y="453.98" width="29.15" height="20.18" fill="#ecf1f9"/>
<rect x="201.80" y="453.98" width="29.15" height="20.18" fill="#cad9ed"/>
<rect x="230.65" y="453.98" width="29.15" height="20.18" fill="#cad9ed"/>
<rect x="259.50" y="453.98" width="29.15" height="20.18" fill="#a1bcdf"/>
<rect x="288.35" y="453.98" width="29.15" height="20.18" fill="#6d98cd"/>
<rect x="317.20" y="453.98" width="29.15" height="20.18" fill="#8eaed8"/>
<rect x="346.05" y="453.98" width="29.15" height="20.18" fill="#8eaed8"/>
<rect x="374.90" y="453.98" width="29.15" height="20.18" fill="#8eaed8"/>
<rect x="403.75" y="453.98" width="29.15" height="20.18" fill="#a1bcdf"/>
<rect x="432.60" y="453.98" width="29.15" height="20.18" fill="#fbdfe1"/>
<rect x="461.45" y="453.98" width="29.15" height="20.18" fill="#a1bcdf"/>
<rect x="490.30" y="453.98" width="29.15" height="20.18" fill="#5f8dc8"/>
<rect x="519.15" y="453.98" width="29.15" height="20.18" fill="#8eaed8"/>
<rect x="548.00" y="453.98" width="29.15" height="20.18" fill="#5a8ac6"/>
<rect x="576.85" y="453.98" width="29.15" height="20.18" fill="#5a8ac6"/>
<rect x="605.70" y="453.98" width="29.15" height="20.18" fill="#5a8ac6"/>
<rect x="634.55" y="453.98" width="29.15" height="20.18" fill="#f9888a"/>
<rect x="663.40" y="453.98" width="29.15" height="20.18" fill="#f8696b"/>
<rect x="692.25" y="453.98" width="29.15" height="20.18" fill="#f87b7d"/>
<rect x="721.10" y="453.98" width="29.15" height="20.18" fill="#f9888a"/>
<rect x="749.95" y="453.98" width="29.15" height="20.18" fill="#f9989a"/>
<rect x="86.40" y="473.86" width="29.15" height="20.18" fill="#f87b7d"/>
<rect x="115.25" y="473.86" width="29.15" height="20.18" fill="#fbced1"/>
<rect x="144.10" y="473.86" width="29.15" height="20.18" fill="#fbdfe1"/>
<rect x="172.95" y="473.86" width="29.15" height="20.18" fill="#cad9ed"/>
<rect x="201.80" y="473.86" width="29.15" height="20.18" fill="#a1bcdf"/>
<rect x="230.65" y="473.86" width="29.15" height="20.18" fill="#7ca2d2"/>
<rect x="259.50" y="473.86" width="29.15" height="20.18" fill="#6d98cd"/>
<rect x="288.35" y="473.86" width="29.15" height="20.18" fill="#5a8ac6"/>
<rect x="317.20" y="473.86" width="29.15" height="20.18" fill="#6d98cd"/>
<rect x="346.05" y="473.86" width="29.15" height="20.18" fill="#6d98cd"/>
<rect x="374.90" y="473.86" width="29.15" height="20.18" fill="#7ca2d2"/>
<rect x="403.75" y="473.86" width="29.15" height="20.18" fill="#8eaed8"/>
<rect x="432.60" y="473.86" width="29.15" height="20.18" fill="#7ca2d2"/>
<rect x="461.45" y="473.86" width="29.15" height="20.18" fill="#5a8ac6"/>
<rect x="490.30" y="473.86" width="29.15" height="20.18" fill="#5a8ac6"/>
<rect x="519.15" y="473.86" width="29.15" height="20.18" fill="#5a8ac6"/>
<rect x="548.00" y="473.86" width="29.15" height="20.18" fill="#5a8ac6"/>
<rect x="576.85" y="473.86" width="29.15" height="20.18" fill="#5a8ac6"/>
<rect x="605.70" y="473.86" width="29.15" height="20.18" fill="#5a8ac6"/>
<rect x="634.55" y="473.86" width="29.15" height="20.18" fill="#fbdfe1"/>
<rect x="663.40" y="473.86" width="29.15" height="20.18" fill="#faaaac"/>
<rect x="692.25" y="473.86" width="29.15" height="20.18" fill="#f87b7d"/>
<rect x="721.10" y="473.86" width="29.15" height="20.18" fill="#f8696b"/>
<rect x="749.95" y="473.86" width="29.15" height="20.18" fill="#f8696b"/>
<rect x="86.40" y="493.74" width="29.15" height="20.18" fill="#faaaac"/>
<rect x="115.25" y="493.74" width="29.15" height="20.18" fill="#f9888a"/>
<rect x="144.10" y="493.74" width="29.15" height="20.18" fill="#f9888a"/>
<rect x="172.95" y="493.74" width="29.15" height="20.18" fill="#fbced1"/>
<rect x="201.80" y="493.74" width="29.15" height="20.18" fill="#fcedf0"/>
<rect x="230.65" y="493.74" width="29.15" height="20.18" fill="#cad9ed"/>
<rect x="259.50" y="493.74" width="29.15" height="20.18" fill="#8eaed8"/>
<rect x="288.35" y="493.74" width="29.15" height="20.18" fill="#7ca2d2"/>
<rect x="317.20" y="493.74" width="29.15" height="20.18" fill="#8eaed8"/>
<rect x="346.05" y="493.74" width="29.15" height="20.18" fill="#8eaed8"/>
<rect x="374.90" y="493.74" width="29.15" height="20.18" fill="#98b5dc"/>
<rect x="403.75" y="493.74" width="29.15" height="20.18" fill="#a1bcdf"/>
<rect x="432.60" y="493.74" width="29.15" height="20.18" fill="#98b5dc"/>
<rect x="461.45" y="493.74" width="29.15" height="20.18" fill="#5f8dc8"/>
<rect x="490.30" y="493.74" width="29.15" height="20.18" fill="#5a8ac6"/>
<rect x="519.15" y="493.74" width="29.15" height="20.18" fill="#5a8ac6"/>
<rect x="548.00" y="493.74" width="29.15" height="20.18" fill="#5a8ac6"/>
<rect x="576.85" y="493.74" width="29.15" height="20.18" fill="#5a8ac6"/>
<rect x="605.70" y="493.74" width="29.15" height="20.18" fill="#5a8ac6"/>
<rect x="634.55" y="493.74" width="29.15" height="20.18" fill="#fabbbe"/>
<rect x="663.40" y="493.74" width="29.15" height="20.18" fill="#fbced1"/>
<rect x="692.25" y="493.74" width="29.15" height="20.18" fill="#faaaac"/>
<rect x="721.10" y="493.74" width="29.15" height="20.18" fill="#f9989a"/>
<rect x="749.95" y="493.74" width="29.15" height="20.18" fill="#f8696b"/>
<rect x="86.40" y="513.62" width="29.15" height="20.18" fill="#dce5f4"/>
<rect x="115.25" y="513.62" width="29.15" height="20.18" fill="#cad9ed"/>
<rect x="144.10" y="513.62" width="29.15" height="20.18" fill="#5a8ac6"/>
<rect x="172.95" y="513.62" width="29.15" height="20.18" fill="#5a8ac6"/>
<rect x="201.80" y="513.62" width="29.15" height="20.18" fill="#5a8ac6"/>
<rect x="230.65" y="513.62" width="29.15" height="20.18" fill="#5a8ac6"/>
<rect x="259.50" y="513.62" width="29.15" height="20.18" fill="#5a8ac6"/>
<rect x="288.35" y="513.62" width="29.15" height="20.18" fill="#5a8ac6"/>
<rect x="317.20" y="513.62" width="29.15" height="20.18" fill="#5a8ac6"/>
<rect x="346.05" y="513.62" width="29.15" height="20.18" fill="#7ca2d2"/>
<rect x="374.90" y="513.62" width="29.15" height="20.18" fill="#5a8ac6"/>
<rect x="403.75" y="513.62" width="29.15" height="20.18" fill="#5f8dc8"/>
<rect x="432.60" y="513.62" width="29.15" height="20.18" fill="#5a8ac6"/>
<rect x="461.45" y="513.62" width="29.15" height="20.18" fill="#5a8ac6"/>
<rect x="490.30" y="513.62" width="29.15" height="20.18" fill="#5a8ac6"/>
<rect x="519.15" y="513.62" width="29.15" height="20.18" fill="#5a8ac6"/>
<rect x="548.00" y="513.62" width="29.15" height="20.18" fill="#5a8ac6"/>
<rect x="576.85" y="513.62" width="29.15" height="20.18" fill="#5a8ac6"/>
<rect x="605.70" y="513.62" width="29.15" height="20.18" fill="#5a8ac6"/>
<rect x="634.55" y="513.62" width="29.15" height="20.18" fill="#f8696b"/>
<rect x="663.40" y="513.62" width="29.15" height="20.18" fill="#fbdfe1"/>
<rect x="692.25" y="513.62" width="29.15" height="20.18" fill="#fbdfe1"/>
<rect x="721.10" y="513.62" width="29.15" height="20.18" fill="#fbced1"/>
<rect x="749.95" y="513.62" width="29.15" height="20.18" fill="#fabbbe"/>
<rect x="86.40" y="533.50" width="29.15" height="20.18" fill="#f8696b"/>
<rect x="115.25" y="533.50" width="29.15" height="20.18" fill="#faaaac"/>
<rect x="144.10" y="533.50" width="29.15" height="20.18" fill="#fabbbe"/>
<rect x="172.95" y="533.50" width="29.15" height="20.18" fill="#fcedf0"/>
<rect x="201.80" y="533.50" width="29.15" height="20.18" fill="#fcedf0"/>
<rect x="230.65" y="533.50" width="29.15" height="20.18" fill="#fcfcff"/>
<rect x="259.50" y="533.50" width="29.15" height="20.18" fill="#ecf1f9"/>
<rect x="288.35" y="533.50" width="29.15" height="20.18" fill="#ecf1f9"/>
<rect x="317.20" y="533.50" width="29.15" height="20.18" fill="#fcfcff"/>
<rect x="346.05" y="533.50" width="29.15" height="20.18" fill="#dce5f4"/>
<rect x="374.90" y="533.50" width="29.15" height="20.18" fill="#fcfcff"/>
<rect x="403.75" y="533.50" width="29.15" height="20.18" fill="#ecf1f9"/>
<rect x="432.60" y="533.50" width="29.15" height="20.18" fill="#fcf5f8"/>
<rect x="461.45" y="533.50" width="29.15" height="20.18" fill="#fcedf0"/>
<rect x="490.30" y="533.50" width="29.15" height="20.18" fill="#cad9ed"/>
<rect x="519.15" y="533.50" width="29.15" height="20.18" fill="#ecf1f9"/>
<rect x="548.00" y="533.50" width="29.15" height="20.18" fill="#a1bcdf"/>
<rect x="576.85" y="533.50" width="29.15" height="20.18" fill="#7ca2d2"/>
<rect x="605.70" y="533.50" width="29.15" height="20.18" fill="#a1bcdf"/>
<rect x="634.55" y="533.50" width="29.15" height="20.18" fill="#fbdfe1"/>
<rect x="663.40" y="533.50" width="29.15" height="20.18" fill="#f9989a"/>
<rect x="692.25" y="533.50" width="29.15" height="20.18" fill="#f87b7d"/>
<rect x="721.10" y="533.50" width="29.15" height="20.18" fill="#f8696b"/>
<rect x="749.95" y="533.50" width="29.15" height="20.18" fill="#f87b7d"/>
<rect x="86.40" y="553.38" width="29.15" height="20.18" fill="#b5cae6"/>
<rect x="115.25" y="553.38" width="29.15" height="20.18" fill="#cad9ed"/>
<rect x="144.10" y="553.38" width="29.15" height="20.18" fill="#5a8ac6"/>
<rect x="172.95" y="553.38" width="29.15" height="20.18" fill="#5a8ac6"/>
<rect x="201.80" y="553.38" width="29.15" height="20.18" fill="#5a8ac6"/>
<rect x="230.65" y="553.38" width="29.15" height="20.18" fill="#5a8ac6"/>
<rect x="259.50" y="553.38" width="29.15" height="20.18" fill="#5a8ac6"/>
<rect x="288.35" y="553.38" width="29.15" height="20.18" fill="#5a8ac6"/>
<rect x="317.20" y="553.38" width="29.15" height="20.18" fill="#5a8ac6"/>
<rect x="346.05" y="553.38" width="29.15" height="20.18" fill="#5a8ac6"/>
<rect x="374.90" y="553.38" width="29.15" height="20.18" fill="#5a8ac6"/>
<rect x="403.75" y="553.38" width="29.15" height="20.18" fill="#6d98cd"/>
<rect x="432.60" y="553.38" width="29.15" height="20.18" fill="#5a8ac6"/>
<rect x="461.45" y="553.38" width="29.15" height="20.18" fill="#5a8ac6"/>
<rect x="490.30" y="553.38" width="29.15" height="20.18" fill="#5a8ac6"/>
<rect x="519.15" y="553.38" width="29.15" height="20.18" fill="#5a8ac6"/>
<rect x="548.00" y="553.38" width="29.15" height="20.18" fill="#5a8ac6"/>
<rect x="576.85" y="553.38" width="29.15" height="20.18" fill="#5a8ac6"/>
<rect x="605.70" y="553.38" width="29.15" height="20.18" fill="#5a8ac6"/>
<rect x="634.55" y="553.38" width="29.15" height="20.18" fill="#f8696b"/>
<rect x="663.40" y="553.38" width="29.15" height="20.18" fill="#fcedf0"/>
<rect x="692.25" y="553.38" width="29.15" height="20.18" fill="#fbdfe1"/>
<rect x="721.10" y="553.38" width="29.15" height="20.18" fill="#fcedf0"/>
<rect x="749.95" y="553.38" width="29.15" height="20.18" fill="#fbdfe1"/>
<rect x="86.40" y="573.26" width="29.15" height="20.18" fill="#a1bcdf"/>
<rect x="115.25" y="573.26" width="29.15" height="20.18" fill="#5a8ac6"/>
<rect x="144.10" y="573.26" width="29.15" height="20.18" fill="#5a8ac6"/>
<rect x="172.95" y="573.26" width="29.15" height="20.18" fill="#5a8ac6"/>
<rect x="201.80" y="573.26" width="29.15" height="20.18" fill="#5a8ac6"/>
<rect x="230.65" y="573.26" width="29.15" height="20.18" fill="#5a8ac6"/>
<rect x="259.50" y="573.26" width="29.15" height="20.18" fill="#5a8ac6"/>
<rect x="288.35" y="573.26" width="29.15" height="20.18" fill="#5a8ac6"/>
<rect x="317.20" y="573.26" width="29.15" height="20.18" fill="#5a8ac6"/>
<rect x="346.05" y="573.26" width="29.15" height="20.18" fill="#5a8ac6"/>
<rect x="374.90" y="573.26" width="29.15" height="20.18" fill="#5a8ac6"/>
<rect x="403.75" y="573.26" width="29.15" height="20.18" fill="#7ca2d2"/>
<rect x="432.60" y="573.26" width="29.15" height="20.18" fill="#5a8ac6"/>
<rect x="461.45" y="573.26" width="29.15" height="20.18" fill="#5a8ac6"/>
<rect x="490.30" y="573.26" width="29.15" height="20.18" fill="#5a8ac6"/>
<rect x="519.15" y="573.26" width="29.15" height="20.18" fill="#5a8ac6"/>
<rect x="548.00" y="573.26" width="29.15" height="20.18" fill="#5a8ac6"/>
<rect x="576.85" y="573.26" width="29.15" height="20.18" fill="#5a8ac6"/>
<rect x="605.70" y="573.26" width="29.15" height="20.18" fill="#5a8ac6"/>
<rect x="634.55" y="573.26" width="29.15" height="20.18" fill="#f8696b"/>
<rect x="663.40" y="573.26" width="29.15" height="20.18" fill="#fcedf0"/>
<rect x="692.25" y="573.26" width="29.15" height="20.18" fill="#fabbbe"/>
<rect x="721.10" y="573.26" width="29.15" height="20.18" fill="#fbdfe1"/>
<rect x="749.95" y="573.26" width="29.15" height="20.18" fill="#fbced1"/>
<rect x="86.40" y="593.14" width="29.15" height="20.18" fill="#5f8dc8"/>
<rect x="115.25" y="593.14" width="29.15" height="20.18" fill="#5a8ac6"/>
<rect x="144.10" y="593.14" width="29.15" height="20.18" fill="#5a8ac6"/>
<rect x="172.95" y="593.14" width="29.15" height="20.18" fill="#5a8ac6"/>
<rect x="201.80" y="593.14" width="29.15" height="20.18" fill="#5a8ac6"/>
<rect x="230.65" y="593.14" width="29.15" height="20.18" fill="#5a8ac6"/>
<rect x="259.50" y="593.14" width="29.15" height="20.18" fill="#5a8ac6"/>
<rect x="288.35" y="593.14" width="29.15" height="20.18" fill="#5a8ac6"/>
<rect x="317.20" y="593.14" width="29.15" height="20.18" fill="#5a8ac6"/>
<rect x="346.05" y="593.14" width="29.15" height="20.18" fill="#5a8ac6"/>
<rect x="374.90" y="593.14" width="29.15" height="20.18" fill="#5a8ac6"/>
<rect x="403.75" y="593.14" width="29.15" height="20.18" fill="#5f8dc8"/>
<rect x="432.60" y="593.14" width="29.15" height="20.18" fill="#5a8ac6"/>
<rect x="461.45" y="593.14" width="29.15" height="20.18" fill="#5a8ac6"/>
<rect x="490.30" y="593.14" width="29.15" height="20.18" fill="#5a8ac6"/>
<rect x="519.15" y="593.14" width="29.15" height="20.18" fill="#5a8ac6"/>
<rect x="548.00" y="593.14" width="29.15" height="20.18" fill="#5a8ac6"/>
<rect x="576.85" y="593.14" width="29.15" height="20.18" fill="#5a8ac6"/>
<rect x="605.70" y="593.14" width="29.15" height="20.18" fill="#5a8ac6"/>
<rect x="634.55" y="593.14" width="29.15" height="20.18" fill="#f8696b"/>
<rect x="663.40" y="593.14" width="29.15" height="20.18" fill="#fbdfe1"/>
<rect x="692.25" y="593.14" width="29.15" height="20.18" fill="#fbced1"/>
<rect x="721.10" y="593.14" width="29.15" height="20.18" fill="#fbdfe1"/>
<rect x="749.95" y="593.14" width="29.15" height="20.18" fill="#f9989a"/>
<rect x="86.40" y="613.02" width="29.15" height="20.18" fill="#fcfcff"/>
<rect x="115.25" y="613.02" width="29.15" height="20.18" fill="#fcedf0"/>
<rect x="144.10" y="613.02" width="29.15" height="20.18" fill="#fcfcff"/>
<rect x="172.95" y="613.02" width="29.15" height="20.18" fill="#fabbbe"/>
<rect x="201.80" y="613.02" width="29.15" height="20.18" fill="#b5cae6"/>
<rect x="230.65" y="613.02" width="29.15" height="20.18" fill="#cad9ed"/>
<rect x="259.50" y="613.02" width="29.15" height="20.18" fill="#5a8ac6"/>
<rect x="288.35" y="613.02" width="29.15" height="20.18" fill="#5a8ac6"/>
<rect x="317.20" y="613.02" width="29.15" height="20.18" fill="#6d98cd"/>
<rect x="346.05" y="613.02" width="29.15" height="20.18" fill="#5a8ac6"/>
<rect x="374.90" y="613.02" width="29.15" height="20.18" fill="#5a8ac6"/>
<rect x="403.75" y="613.02" width="29.15" height="20.18" fill="#5f8dc8"/>
<rect x="432.60" y="613.02" width="29.15" height="20.18" fill="#5a8ac6"/>
<rect x="461.45" y="613.02" width="29.15" height="20.18" fill="#5a8ac6"/>
<rect x="490.30" y="613.02" width="29.15" height="20.18" fill="#5a8ac6"/>
<rect x="519.15" y="613.02" width="29.15" height="20.18" fill="#5a8ac6"/>
<rect x="548.00" y="613.02" width="29.15" height="20.18" fill="#5a8ac6"/>
<rect x="576.85" y="613.02" width="29.15" height="20.18" fill="#5a8ac6"/>
<rect x="605.70" y="613.02" width="29.15" height="20.18" fill="#5a8ac6"/>
<rect x="634.55" y="613.02" width="29.15" height="20.18" fill="#f8696b"/>
<rect x="663.40" y="613.02" width="29.15" height="20.18" fill="#cad9ed"/>
<rect x="692.25" y="613.02" width="29.15" height="20.18" fill="#8eaed8"/>
<rect x="721.10" y="613.02" width="29.15" height="20.18" fill="#a1bcdf"/>
<rect x="749.95" y="613.02" width="29.15" height="20.18" fill="#a1bcdf"/>
<rect x="86.40" y="632.90" width="29.15" height="20.18" fill="#5a8ac6"/>
<rect x="115.25" y="632.90" width="29.15" height="20.18" fill="#5a8ac6"/>
<rect x="144.10" y="632.90" width="29.15" height="20.18" fill="#5a8ac6"/>
<rect x="172.95" y="632.90" width="29.15" height="20.18" fill="#5a8ac6"/>
<rect x="201.80" y="632.90" width="29.15" height="20.18" fill="#5a8ac6"/>
<rect x="230.65" y="632.90" width="29.15" height="20.18" fill="#5a8ac6"/>
<rect x="259.50" y="632.90" width="29.15" height="20.18" fill="#5a8ac6"/>
<rect x="288.35" y="632.90" width="29.15" height="20.18" fill="#5a8ac6"/>
<rect x="317.20" y="632.90" width="29.15" height="20.18" fill="#5a8ac6"/>
<rect x="346.05" y="632.90" width="29.15" height="20.18" fill="#5a8ac6"/>
<rect x="374.90" y="632.90" width="29.15" height="20.18" fill="#5a8ac6"/>
<rect x="403.75" y="632.90" width="29.15" height="20.18" fill="#5a8ac6"/>
<rect x="432.60" y="632.90" width="29.15" height="20.18" fill="#5a8ac6"/>
<rect x="461.45" y="632.90" width="29.15" height="20.18" fill="#5a8ac6"/>
<rect x="490.30" y="632.90" width="29.15" height="20.18" fill="#5a8ac6"/>
<rect x="519.15" y="632.90" width="29.15" height="20.18" fill="#5a8ac6"/>
<rect x="548.00" y="632.90" width="29.15" height="20.18" fill="#5a8ac6"/>
<rect x="576.85" y="632.90" width="29.15" height="20.18" fill="#5a8ac6"/>
<rect x="605.70" y="632.90" width="29.15" height="20.18" fill="#5a8ac6"/>
<rect x="634.55" y="632.90" width="29.15" height="20.18" fill="#f8696b"/>
<rect x="663.40" y="632.90" width="29.15" height="20.18" fill="#fbced1"/>
<rect x="692.25" y="632.90" width="29.15" height="20.18" fill="#fbced1"/>
<rect x="721.10" y="632.90" width="29.15" height="20.18" fill="#faaaac"/>
<rect x="749.95" y="632.90" width="29.15" height="20.18" fill="#fcedf0"/>
<rect x="86.40" y="652.78" width="29.15" height="20.18" fill="#5a8ac6"/>
<rect x="115.25" y="652.78" width="29.15" height="20.18" fill="#5a8ac6"/>
<rect x="144.10" y="652.78" width="29.15" height="20.18" fill="#5a8ac6"/>
<rect x="172.95" y="652.78" width="29.15" height="20.18" fill="#5a8ac6"/>
<rect x="201.80" y="652.78" width="29.15" height="20.18" fill="#5a8ac6"/>
<rect x="230.65" y="652.78" width="29.15" height="20.18" fill="#5a8ac6"/>
<rect x="259.50" y="652.78" width="29.15" height="20.18" fill="#5a8ac6"/>
<rect x="288.35" y="652.78" width="29.15" height="20.18" fill="#5a8ac6"/>
<rect x="317.20" y="652.78" width="29.15" height="20.18" fill="#5a8ac6"/>
<rect x="346.05" y="652.78" width="29.15" height="20.18" fill="#dce5f4"/>
<rect x="374.90" y="652.78" width="29.15" height="20.18" fill="#fcedf0"/>
<rect x="403.75" y="652.78" width="29.15" height="20.18" fill="#fcedf0"/>
<rect x="432.60" y="652.78" width="29.15" height="20.18" fill="#5a8ac6"/>
<rect x="461.45" y="652.78" width="29.15" height="20.18" fill="#5a8ac6"/>
<rect x="490.30" y="652.78" width="29.15" height="20.18" fill="#5a8ac6"/>
<rect x="519.15" y="652.78" width="29.15" height="20.18" fill="#5a8ac6"/>
<rect x="548.00" y="652.78" width="29.15" height="20.18" fill="#8eaed8"/>
<rect x="576.85" y="652.78" width="29.15" height="20.18" fill="#5a8ac6"/>
<rect x="605.70" y="652.78" width="29.15" height="20.18" fill="#5a8ac6"/>
<rect x="634.55" y="652.78" width="29.15" height="20.18" fill="#f8696b"/>
<rect x="663.40" y="652.78" width="29.15" height="20.18" fill="#fbced1"/>
<rect x="692.25" y="652.78" width="29.15" height="20.18" fill="#fabbbe"/>
<rect x="721.10" y="652.78" width="29.15" height="20.18" fill="#ecf1f9"/>
<rect x="749.95" y="652.78" width="29.15" height="20.18" fill="#fbced1"/>
<rect x="86.40" y="672.66" width="29.15" height="20.18" fill="#cad9ed"/>
<rect x="115.25" y="672.66" width="29.15" height="20.18" fill="#cad9ed"/>
<rect x="144.10" y="672.66" width="29.15" height="20.18" fill="#5a8ac6"/>
<rect x="172.95" y="672.66" width="29.15" height="20.18" fill="#5a8ac6"/>
<rect x="201.80" y="672.66" width="29.15" height="20.18" fill="#5a8ac6"/>
<rect x="230.65" y="672.66" width="29.15" height="20.18" fill="#5a8ac6"/>
<rect x="259.50" y="672.66" width="29.15" height="20.18" fill="#5a8ac6"/>
<rect x="288.35" y="672.66" width="29.15" height="20.18" fill="#5a8ac6"/>
<rect x="317.20" y="672.66" width="29.15" height="20.18" fill="#5a8ac6"/>
<rect x="346.05" y="672.66" width="29.15" height="20.18" fill="#8eaed8"/>
<rect x="374.90" y="672.66" width="29.15" height="20.18" fill="#5a8ac6"/>
<rect x="403.75" y="672.66" width="29.15" height="20.18" fill="#b5cae6"/>
<rect x="432.60" y="672.66" width="29.15" height="20.18" fill="#5a8ac6"/>
<rect x="461.45" y="672.66" width="29.15" height="20.18" fill="#5a8ac6"/>
<rect x="490.30" y="672.66" width="29.15" height="20.18" fill="#5a8ac6"/>
<rect x="519.15" y="672.66" width="29.15" height="20.18" fill="#5a8ac6"/>
<rect x="548.00" y="672.66" width="29.15" height="20.18" fill="#b5cae6"/>
<rect x="576.85" y="672.66" width="29.15" height="20.18" fill="#5a8ac6"/>
<rect x="605.70" y="672.66" width="29.15" height="20.18" fill="#5a8ac6"/>
<rect x="634.55" y="672.66" width="29.15" height="20.18" fill="#f8696b"/>
<rect x="663.40" y="672.66" width="29.15" height="20.18" fill="#faaaac"/>
<rect x="692.25" y="672.66" width="29.15" height="20.18" fill="#fabbbe"/>
<rect x="721.10" y="672.66" width="29.15" height="20.18" fill="#fbdfe1"/>
<rect x="749.95" y="672.66" width="29.15" height="20.18" fill="#faaaac"/>
<rect x="86.40" y="692.54" width="29.15" height="20.18" fill="#fcedf0"/>
<rect x="115.25" y="692.54" width="29.15" height="20.18" fill="#fcfcff"/>
<rect x="144.10" y="692.54" width="29.15" height="20.18" fill="#b5cae6"/>
<rect x="172.95" y="692.54" width="29.15" height="20.18" fill="#fcedf0"/>
<rect x="201.80" y="692.54" width="29.15" height="20.18" fill="#b5cae6"/>
<rect x="230.65" y="692.54" width="29.15" height="20.18" fill="#5f8dc8"/>
<rect x="259.50" y="692.54" width="29.15" height="20.18" fill="#5a8ac6"/>
<rect x="288.35" y="692.54" width="29.15" height="20.18" fill="#5a8ac6"/>
<rect x="317.20" y="692.54" width="29.15" height="20.18" fill="#5a8ac6"/>
<rect x="346.05" y="692.54" width="29.15" height="20.18" fill="#5f8dc8"/>
<rect x="374.90" y="692.54" width="29.15" height="20.18" fill="#b5cae6"/>
<rect x="403.75" y="692.54" width="29.15" height="20.18" fill="#6d98cd"/>
<rect x="432.60" y="692.54" width="29.15" height="20.18" fill="#5a8ac6"/>
<rect x="461.45" y="692.54" width="29.15" height="20.18" fill="#5a8ac6"/>
<rect x="490.30" y="692.54" width="29.15" height="20.18" fill="#5a8ac6"/>
<rect x="519.15" y="692.54" width="29.15" height="20.18" fill="#5a8ac6"/>
<rect x="548.00" y="692.54" width="29.15" height="20.18" fill="#5a8ac6"/>
<rect x="576.85" y="692.54" width="29.15" height="20.18" fill="#5a8ac6"/>
<rect x="605.70" y="692.54" width="29.15" height="20.18" fill="#5a8ac6"/>
<rect x="634.55" y="692.54" width="29.15" height="20.18" fill="#fabbbe"/>
<rect x="663.40" y="692.54" width="29.15" height="20.18" fill="#f8696b"/>
<rect x="692.25" y="692.54" width="29.15" height="20.18" fill="#faaaac"/>
<rect x="721.10" y="692.54" width="29.15" height="20.18" fill="#fcedf0"/>
<rect x="749.95" y="692.54" width="29.15" height="20.18" fill="#fcedf0"/>
<rect x="86.40" y="712.42" width="29.15" height="20.18" fill="#f9888a"/>
<rect x="115.25" y="712.42" width="29.15" height="20.18" fill="#faaaac"/>
<rect x="144.10" y="712.42" width="29.15" height="20.18" fill="#fbdfe1"/>
<rect x="172.95" y="712.42" width="29.15" height="20.18" fill="#fbdfe1"/>
<rect x="201.80" y="712.42" width="29.15" height="20.18" fill="#fbdfe1"/>
<rect x="230.65" y="712.42" width="29.15" height="20.18" fill="#fcfcff"/>
<rect x="259.50" y="712.42" width="29.15" height="20.18" fill="#7ca2d2"/>
<rect x="288.35" y="712.42" width="29.15" height="20.18" fill="#7ca2d2"/>
<rect x="317.20" y="712.42" width="29.15" height="20.18" fill="#7ca2d2"/>
<rect x="346.05" y="712.42" width="29.15" height="20.18" fill="#b5cae6"/>
<rect x="374.90" y="712.42" width="29.15" height="20.18" fill="#ecf1f9"/>
<rect x="403.75" y="712.42" width="29.15" height="20.18" fill="#fcfcff"/>
<rect x="432.60" y="712.42" width="29.15" height="20.18" fill="#6d98cd"/>
<rect x="461.45" y="712.42" width="29.15" height="20.18" fill="#5a8ac6"/>
<rect x="490.30" y="712.42" width="29.15" height="20.18" fill="#5a8ac6"/>
<rect x="519.15" y="712.42" width="29.15" height="20.18" fill="#5a8ac6"/>
<rect x="548.00" y="712.42" width="29.15" height="20.18" fill="#5a8ac6"/>
<rect x="576.85" y="712.42" width="29.15" height="20.18" fill="#5a8ac6"/>
<rect x="605.70" y="712.42" width="29.15" height="20.18" fill="#5a8ac6"/>
<rect x="634.55" y="712.42" width="29.15" height="20.18" fill="#fbced1"/>
<rect x="663.40" y="712.42" width="29.15" height="20.18" fill="#fbdfe1"/>
<rect x="692.25" y="712.42" width="29.15" height="20.18" fill="#fbced1"/>
<rect x="721.10" y="712.42" width="29.15" height="20.18" fill="#faaaac"/>
<rect x="749.95" y="712.42" width="29.15" height="20.18" fill="#f8696b"/>
<rect x="86.40" y="732.30" width="29.15" height="20.18" fill="#faaaac"/>
<rect x="115.25" y="732.30" width="29.15" height="20.18" fill="#faaaac"/>
<rect x="144.10" y="732.30" width="29.15" height="20.18" fill="#ecf1f9"/>
<rect x="172.95" y="732.30" width="29.15" height="20.18" fill="#fcedf0"/>
<rect x="201.80" y="732.30" width="29.15" height="20.18" fill="#fcedf0"/>
<rect x="230.65" y="732.30" width="29.15" height="20.18" fill="#fbdfe1"/>
<rect x="259.50" y="732.30" width="29.15" height="20.18" fill="#f9989a"/>
<rect x="288.35" y="732.30" width="29.15" height="20.18" fill="#faaaac"/>
<rect x="317.20" y="732.30" width="29.15" height="20.18" fill="#f9989a"/>
<rect x="346.05" y="732.30" width="29.15" height="20.18" fill="#f9989a"/>
<rect x="374.90" y="732.30" width="29.15" height="20.18" fill="#faaaac"/>
<rect x="403.75" y="732.30" width="29.15" height="20.18" fill="#faaaac"/>
<rect x="432.60" y="732.30" width="29.15" height="20.18" fill="#f8696b"/>
<rect x="461.45" y="732.30" width="29.15" height="20.18" fill="#f9888a"/>
<rect x="490.30" y="732.30" width="29.15" height="20.18" fill="#f87b7d"/>
<rect x="519.15" y="732.30" width="29.15" height="20.18" fill="#f87b7d"/>
<rect x="548.00" y="732.30" width="29.15" height="20.18" fill="#f9989a"/>
<rect x="576.85" y="732.30" width="29.15" height="20.18" fill="#faaaac"/>
<rect x="605.70" y="732.30" width="29.15" height="20.18" fill="#faaaac"/>
<rect x="634.55" y="732.30" width="29.15" height="20.18" fill="#faaaac"/>
<rect x="663.40" y="732.30" width="29.15" height="20.18" fill="#faaaac"/>
<rect x="692.25" y="732.30" width="29.15" height="20.18" fill="#fabbbe"/>
<rect x="721.10" y="732.30" width="29.15" height="20.18" fill="#fbced1"/>
<rect x="749.95" y="732.30" width="29.15" height="20.18" fill="#faaaac"/>
<rect x="86.40" y="752.18" width="29.15" height="20.18" fill="#cad9ed"/>
<rect x="115.25" y="752.18" width="29.15" height="20.18" fill="#dce5f4"/>
<rect x="144.10" y="752.18" width="29.15" height="20.18" fill="#b5cae6"/>
<rect x="172.95" y="752.18" width="29.15" height="20.18" fill="#cad9ed"/>
<rect x="201.80" y="752.18" width="29.15" height="20.18" fill="#ecf1f9"/>
<rect x="230.65" y="752.18" width="29.15" height="20.18" fill="#fcedf0"/>
<rect x="259.50" y="752.18" width="29.15" height="20.18" fill="#faaaac"/>
<rect x="288.35" y="752.18" width="29.15" height="20.18" fill="#fabbbe"/>
<rect x="317.20" y="752.18" width="29.15" height="20.18" fill="#faaaac"/>
<rect x="346.05" y="752.18" width="29.15" height="20.18" fill="#f9888a"/>
<rect x="374.90" y="752.18" width="29.15" height="20.18" fill="#faaaac"/>
<rect x="403.75" y="752.18" width="29.15" height="20.18" fill="#f9888a"/>
<rect x="432.60" y="752.18" width="29.15" height="20.18" fill="#faaaac"/>
<rect x="461.45" y="752.18" width="29.15" height="20.18" fill="#faaaac"/>
<rect x="490.30" y="752.18" width="29.15" height="20.18" fill="#f87b7d"/>
<rect x="519.15" y="752.18" width="29.15" height="20.18" fill="#f87b7d"/>
<rect x="548.00" y="752.18" width="29.15" height="20.18" fill="#f87b7d"/>
<rect x="576.85" y="752.18" width="29.15" height="20.18" fill="#f8696b"/>
<rect x="605.70" y="752.18" width="29.15" height="20.18" fill="#f8696b"/>
<rect x="634.55" y="752.18" width="29.15" height="20.18" fill="#fabbbe"/>
<rect x="663.40" y="752.18" width="29.15" height="20.18" fill="#fabbbe"/>
<rect x="692.25" y="752.18" width="29.15" height="20.18" fill="#fabbbe"/>
<rect x="721.10" y="752.18" width="29.15" height="20.18" fill="#fbced1"/>
<rect x="749.95" y="752.18" width="29.15" height="20.18" fill="#fbdfe1"/>
<rect x="86.40" y="772.06" width="29.15" height="20.18" fill="#f9989a"/>
<rect x="115.25" y="772.06" width="29.15" height="20.18" fill="#f9989a"/>
<rect x="144.10" y="772.06" width="29.15" height="20.18" fill="#faaaac"/>
<rect x="172.95" y="772.06" width="29.15" height="20.18" fill="#fabbbe"/>
<rect x="201.80" y="772.06" width="29.15" height="20.18" fill="#fabbbe"/>
<rect x="230.65" y="772.06" width="29.15" height="20.18" fill="#fbced1"/>
<rect x="259.50" y="772.06" width="29.15" height="20.18" fill="#fabbbe"/>
<rect x="288.35" y="772.06" width="29.15" height="20.18" fill="#fabbbe"/>
<rect x="317.20" y="772.06" width="29.15" height="20.18" fill="#fbced1"/>
<rect x="346.05" y="772.06" width="29.15" height="20.18" fill="#faaaac"/>
<rect x="374.90" y="772.06" width="29.15" height="20.18" fill="#faaaac"/>
<rect x="403.75" y="772.06" width="29.15" height="20.18" fill="#fabbbe"/>
<rect x="432.60" y="772.06" width="29.15" height="20.18" fill="#fabbbe"/>
<rect x="461.45" y="772.06" width="29.15" height="20.18" fill="#fcfcff"/>
<rect x="490.30" y="772.06" width="29.15" height="20.18" fill="#fbced1"/>
<rect x="519.15" y="772.06" width="29.15" height="20.18" fill="#fbced1"/>
<rect x="548.00" y="772.06" width="29.15" height="20.18" fill="#fbdfe1"/>
<rect x="576.85" y="772.06" width="29.15" height="20.18" fill="#fcedf0"/>
<rect x="605.70" y="772.06" width="29.15" height="20.18" fill="#fbced1"/>
<rect x="634.55" y="772.06" width="29.15" height="20.18" fill="#f87b7d"/>
<rect x="663.40" y="772.06" width="29.15" height="20.18" fill="#faaaac"/>
<rect x="692.25" y="772.06" width="29.15" height="20.18" fill="#fabbbe"/>
<rect x="721.10" y="772.06" width="29.15" height="20.18" fill="#fabbbe"/>
<rect x="749.95" y="772.06" width="29.15" height="20.18" fill="#fbced1"/>
<rect x="86.40" y="791.94" width="29.15" height="20.18" fill="#dce5f4"/>
<rect x="115.25" y="791.94" width="29.15" height="20.18" fill="#b5cae6"/>
<rect x="144.10" y="791.94" width="29.15" height="20.18" fill="#5f8dc8"/>
<rect x="172.95" y="791.94" width="29.15" height="20.18" fill="#cad9ed"/>
<rect x="201.80" y="791.94" width="29.15" height="20.18" fill="#fcedf0"/>
<rect x="230.65" y="791.94" width="29.15" height="20.18" fill="#fbdfe1"/>
<rect x="259.50" y="791.94" width="29.15" height="20.18" fill="#fabbbe"/>
<rect x="288.35" y="791.94" width="29.15" height="20.18" fill="#faaaac"/>
<rect x="317.20" y="791.94" width="29.15" height="20.18" fill="#f87b7d"/>
<rect x="346.05" y="791.94" width="29.15" height="20.18" fill="#8eaed8"/>
<rect x="374.90" y="791.94" width="29.15" height="20.18" fill="#5f8dc8"/>
<rect x="403.75" y="791.94" width="29.15" height="20.18" fill="#5f8dc8"/>
<rect x="432.60" y="791.94" width="29.15" height="20.18" fill="#dce5f4"/>
<rect x="461.45" y="791.94" width="29.15" height="20.18" fill="#f9989a"/>
<rect x="490.30" y="791.94" width="29.15" height="20.18" fill="#f8696b"/>
<rect x="519.15" y="791.94" width="29.15" height="20.18" fill="#faaaac"/>
<rect x="548.00" y="791.94" width="29.15" height="20.18" fill="#fbdfe1"/>
<rect x="576.85" y="791.94" width="29.15" height="20.18" fill="#fabbbe"/>
<rect x="605.70" y="791.94" width="29.15" height="20.18" fill="#f9989a"/>
<rect x="634.55" y="791.94" width="29.15" height="20.18" fill="#fbced1"/>
<rect x="663.40" y="791.94" width="29.15" height="20.18" fill="#fcfcff"/>
<rect x="692.25" y="791.94" width="29.15" height="20.18" fill="#fcfcff"/>
<rect x="721.10" y="791.94" width="29.15" height="20.18" fill="#b5cae6"/>
<rect x="749.95" y="791.94" width="29.15" height="20.18" fill="#8eaed8"/>
<rect x="86.40" y="811.82" width="29.15" height="20.18" fill="#f9888a"/>
<rect x="115.25" y="811.82" width="29.15" height="20.18" fill="#f8696b"/>
<rect x="144.10" y="811.82" width="29.15" height="20.18" fill="#f9989a"/>
<rect x="172.95" y="811.82" width="29.15" height="20.18" fill="#f9888a"/>
<rect x="201.80" y="811.82" width="29.15" height="20.18" fill="#f9888a"/>
<rect x="230.65" y="811.82" width="29.15" height="20.18" fill="#fabbbe"/>
<rect x="259.50" y="811.82" width="29.15" height="20.18" fill="#fabbbe"/>
<rect x="288.35" y="811.82" width="29.15" height="20.18" fill="#fabbbe"/>
<rect x="317.20" y="811.82" width="29.15" height="20.18" fill="#fbced1"/>
<rect x="346.05" y="811.82" width="29.15" height="20.18" fill="#fbced1"/>
<rect x="374.90" y="811.82" width="29.15" height="20.18" fill="#fbced1"/>
<rect x="403.75" y="811.82" width="29.15" height="20.18" fill="#fbced1"/>
<rect x="432.60" y="811.82" width="29.15" height="20.18" fill="#fabbbe"/>
<rect x="461.45" y="811.82" width="29.15" height="20.18" fill="#fabbbe"/>
<rect x="490.30" y="811.82" width="29.15" height="20.18" fill="#fbced1"/>
<rect x="519.15" y="811.82" width="29.15" height="20.18" fill="#fbced1"/>
<rect x="548.00" y="811.82" width="29.15" height="20.18" fill="#fabbbe"/>
<rect x="576.85" y="811.82" width="29.15" height="20.18" fill="#fbced1"/>
<rect x="605.70" y="811.82" width="29.15" height="20.18" fill="#fbced1"/>
<rect x="634.55" y="811.82" width="29.15" height="20.18" fill="#fbced1"/>
<rect x="663.40" y="811.82" width="29.15" height="20.18" fill="#fbced1"/>
<rect x="692.25" y="811.82" width="29.15" height="20.18" fill="#fbced1"/>
<rect x="721.10" y="811.82" width="29.15" height="20.18" fill="#fbced1"/>
<rect x="749.95" y="811.82" width="29.15" height="20.18" fill="#fbced1"/>
<rect x="86.40" y="831.70" width="29.15" height="20.18" fill="#ecf1f9"/>
<rect x="115.25" y="831.70" width="29.15" height="20.18" fill="#dce5f4"/>
<rect x="144.10" y="831.70" width="29.15" height="20.18" fill="#b5cae6"/>
<rect x="172.95" y="831.70" width="29.15" height="20.18" fill="#8eaed8"/>
<rect x="201.80" y="831.70" width="29.15" height="20.18" fill="#8eaed8"/>
<rect x="230.65" y="831.70" width="29.15" height="20.18" fill="#fcfcff"/>
<rect x="259.50" y="831.70" width="29.15" height="20.18" fill="#fcedf0"/>
<rect x="288.35" y="831.70" width="29.15" height="20.18" fill="#fbced1"/>
<rect x="317.20" y="831.70" width="29.15" height="20.18" fill="#fcedf0"/>
<rect x="346.05" y="831.70" width="29.15" height="20.18" fill="#dce5f4"/>
<rect x="374.90" y="831.70" width="29.15" height="20.18" fill="#cad9ed"/>
<rect x="403.75" y="831.70" width="29.15" height="20.18" fill="#a1bcdf"/>
<rect x="432.60" y="831.70" width="29.15" height="20.18" fill="#fbced1"/>
<rect x="461.45" y="831.70" width="29.15" height="20.18" fill="#fcedf0"/>
<rect x="490.30" y="831.70" width="29.15" height="20.18" fill="#f8696b"/>
<rect x="519.15" y="831.70" width="29.15" height="20.18" fill="#dce5f4"/>
<rect x="548.00" y="831.70" width="29.15" height="20.18" fill="#fcfcff"/>
<rect x="576.85" y="831.70" width="29.15" height="20.18" fill="#dce5f4"/>
<rect x="605.70" y="831.70" width="29.15" height="20.18" fill="#a1bcdf"/>
<rect x="634.55" y="831.70" width="29.15" height="20.18" fill="#fbdfe1"/>
<rect x="663.40" y="831.70" width="29.15" height="20.18" fill="#dce5f4"/>
<rect x="692.25" y="831.70" width="29.15" height="20.18" fill="#cad9ed"/>
<rect x="721.10" y="831.70" width="29.15" height="20.18" fill="#b5cae6"/>
<rect x="749.95" y="831.70" width="29.15" height="20.18" fill="#b5cae6"/>
<rect x="86.40" y="851.58" width="29.15" height="20.18" fill="#dce5f4"/>
<rect x="115.25" y="851.58" width="29.15" height="20.18" fill="#cad9ed"/>
<rect x="144.10" y="851.58" width="29.15" height="20.18" fill="#a1bcdf"/>
<rect x="172.95" y="851.58" width="29.15" height="20.18" fill="#8eaed8"/>
<rect x="201.80" y="851.58" width="29.15" height="20.18" fill="#cad9ed"/>
<rect x="230.65" y="851.58" width="29.15" height="20.18" fill="#a1bcdf"/>
<rect x="259.50" y="851.58" width="29.15" height="20.18" fill="#8eaed8"/>
<rect x="288.35" y="851.58" width="29.15" height="20.18" fill="#fcedf0"/>
<rect x="317.20" y="851.58" width="29.15" height="20.18" fill="#fcfcff"/>
<rect x="346.05" y="851.58" width="29.15" height="20.18" fill="#b5cae6"/>
<rect x="374.90" y="851.58" width="29.15" height="20.18" fill="#fcfcff"/>
<rect x="403.75" y="851.58" width="29.15" height="20.18" fill="#fbdfe1"/>
<rect x="432.60" y="851.58" width="29.15" height="20.18" fill="#b5cae6"/>
<rect x="461.45" y="851.58" width="29.15" height="20.18" fill="#fcfcff"/>
<rect x="490.30" y="851.58" width="29.15" height="20.18" fill="#f8696b"/>
<rect x="519.15" y="851.58" width="29.15" height="20.18" fill="#cad9ed"/>
<rect x="548.00" y="851.58" width="29.15" height="20.18" fill="#dce5f4"/>
<rect x="576.85" y="851.58" width="29.15" height="20.18" fill="#dce5f4"/>
<rect x="605.70" y="851.58" width="29.15" height="20.18" fill="#fbdfe1"/>
<rect x="634.55" y="851.58" width="29.15" height="20.18" fill="#fbdfe1"/>
<rect x="663.40" y="851.58" width="29.15" height="20.18" fill="#cad9ed"/>
<rect x="692.25" y="851.58" width="29.15" height="20.18" fill="#8eaed8"/>
<rect x="721.10" y="851.58" width="29.15" height="20.18" fill="#b5cae6"/>
<rect x="749.95" y="851.58" width="29.15" height="20.18" fill="#dce5f4"/>
<rect x="86.40" y="871.46" width="29.15" height="20.18" fill="#fbdfe1"/>
<rect x="115.25" y="871.46" width="29.15" height="20.18" fill="#fbced1"/>
<rect x="144.10" y="871.46" width="29.15" height="20.18" fill="#fbdfe1"/>
<rect x="172.95" y="871.46" width="29.15" height="20.18" fill="#fbdfe1"/>
<rect x="201.80" y="871.46" width="29.15" height="20.18" fill="#fbced1"/>
<rect x="230.65" y="871.46" width="29.15" height="20.18" fill="#faaaac"/>
<rect x="259.50" y="871.46" width="29.15" height="20.18" fill="#f9888a"/>
<rect x="288.35" y="871.46" width="29.15" height="20.18" fill="#faaaac"/>
<rect x="317.20" y="871.46" width="29.15" height="20.18" fill="#fabbbe"/>
<rect x="346.05" y="871.46" width="29.15" height="20.18" fill="#fabbbe"/>
<rect x="374.90" y="871.46" width="29.15" height="20.18" fill="#faaaac"/>
<rect x="403.75" y="871.46" width="29.15" height="20.18" fill="#f8696b"/>
<rect x="432.60" y="871.46" width="29.15" height="20.18" fill="#f8696b"/>
<rect x="461.45" y="871.46" width="29.15" height="20.18" fill="#f8696b"/>
<rect x="490.30" y="871.46" width="29.15" height="20.18" fill="#f9989a"/>
<rect x="519.15" y="871.46" width="29.15" height="20.18" fill="#fabbbe"/>
<rect x="548.00" y="871.46" width="29.15" height="20.18" fill="#faaaac"/>
<rect x="576.85" y="871.46" width="29.15" height="20.18" fill="#f9989a"/>
<rect x="605.70" y="871.46" width="29.15" height="20.18" fill="#f8696b"/>
<rect x="634.55" y="871.46" width="29.15" height="20.18" fill="#fbced1"/>
<rect x="663.40" y="871.46" width="29.15" height="20.18" fill="#fbdfe1"/>
<rect x="692.25" y="871.46" width="29.15" height="20.18" fill="#fbdfe1"/>
<rect x="721.10" y="871.46" width="29.15" height="20.18" fill="#fabbbe"/>
<rect x="749.95" y="871.46" width="29.15" height="20.18" fill="#faaaac"/>
<rect x="86.40" y="891.34" width="29.15" height="20.18" fill="#dce5f4"/>
<rect x="115.25" y="891.34" width="29.15" height="20.18" fill="#fcfcff"/>
<rect x="144.10" y="891.34" width="29.15" height="20.18" fill="#dce5f4"/>
<rect x="172.95" y="891.34" width="29.15" height="20.18" fill="#ecf1f9"/>
<rect x="201.80" y="891.34" width="29.15" height="20.18" fill="#fbdfe1"/>
<rect x="230.65" y="891.34" width="29.15" height="20.18" fill="#fcfcff"/>
<rect x="259.50" y="891.34" width="29.15" height="20.18" fill="#fbdfe1"/>
<rect x="288.35" y="891.34" width="29.15" height="20.18" fill="#fbdfe1"/>
<rect x="317.20" y="891.34" width="29.15" height="20.18" fill="#fbdfe1"/>
<rect x="346.05" y="891.34" width="29.15" height="20.18" fill="#fbdfe1"/>
<rect x="374.90" y="891.34" width="29.15" height="20.18" fill="#fbdfe1"/>
<rect x="403.75" y="891.34" width="29.15" height="20.18" fill="#fbdfe1"/>
<rect x="432.60" y="891.34" width="29.15" height="20.18" fill="#6d98cd"/>
<rect x="461.45" y="891.34" width="29.15" height="20.18" fill="#cad9ed"/>
<rect x="490.30" y="891.34" width="29.15" height="20.18" fill="#dce5f4"/>
<rect x="519.15" y="891.34" width="29.15" height="20.18" fill="#fcfcff"/>
<rect x="548.00" y="891.34" width="29.15" height="20.18" fill="#dce5f4"/>
<rect x="576.85" y="891.34" width="29.15" height="20.18" fill="#b5cae6"/>
<rect x="605.70" y="891.34" width="29.15" height="20.18" fill="#b5cae6"/>
<rect x="634.55" y="891.34" width="29.15" height="20.18" fill="#a1bcdf"/>
<rect x="663.40" y="891.34" width="29.15" height="20.18" fill="#8eaed8"/>
<rect x="692.25" y="891.34" width="29.15" height="20.18" fill="#b5cae6"/>
<rect x="721.10" y="891.34" width="29.15" height="20.18" fill="#dce5f4"/>
<rect x="749.95" y="891.34" width="29.15" height="20.18" fill="#fcedf0"/>
<rect x="86.40" y="911.22" width="29.15" height="20.18" fill="#f9888a"/>
<rect x="115.25" y="911.22" width="29.15" height="20.18" fill="#f87b7d"/>
<rect x="144.10" y="911.22" width="29.15" height="20.18" fill="#f9989a"/>
<rect x="172.95" y="911.22" width="29.15" height="20.18" fill="#f9888a"/>
<rect x="201.80" y="911.22" width="29.15" height="20.18" fill="#f9989a"/>
<rect x="230.65" y="911.22" width="29.15" height="20.18" fill="#f9989a"/>
<rect x="259.50" y="911.22" width="29.15" height="20.18" fill="#faaaac"/>
<rect x="288.35" y="911.22" width="29.15" height="20.18" fill="#fabbbe"/>
<rect x="317.20" y="911.22" width="29.15" height="20.18" fill="#fabbbe"/>
<rect x="346.05" y="911.22" width="29.15" height="20.18" fill="#fbced1"/>
<rect x="374.90" y="911.22" width="29.15" height="20.18" fill="#fbced1"/>
<rect x="403.75" y="911.22" width="29.15" height="20.18" fill="#fabbbe"/>
<rect x="432.60" y="911.22" width="29.15" height="20.18" fill="#f8696b"/>
<rect x="461.45" y="911.22" width="29.15" height="20.18" fill="#f9888a"/>
<rect x="490.30" y="911.22" width="29.15" height="20.18" fill="#f9989a"/>
<rect x="519.15" y="911.22" width="29.15" height="20.18" fill="#fabbbe"/>
<rect x="548.00" y="911.22" width="29.15" height="20.18" fill="#faaaac"/>
<rect x="576.85" y="911.22" width="29.15" height="20.18" fill="#fabbbe"/>
<rect x="605.70" y="911.22" width="29.15" height="20.18" fill="#fbdfe1"/>
<rect x="634.55" y="911.22" width="29.15" height="20.18" fill="#fbdfe1"/>
<rect x="663.40" y="911.22" width="29.15" height="20.18" fill="#fcedf0"/>
<rect x="692.25" y="911.22" width="29.15" height="20.18" fill="#fbdfe1"/>
<rect x="721.10" y="911.22" width="29.15" height="20.18" fill="#fbdfe1"/>
<rect x="749.95" y="911.22" width="29.15" height="20.18" fill="#fcedf0"/>
<rect x="86.40" y="931.10" width="29.15" height="20.18" fill="#fcfcff"/>
<rect x="115.25" y="931.10" width="29.15" height="20.18" fill="#fcedf0"/>
<rect x="144.10" y="931.10" width="29.15" height="20.18" fill="#cad9ed"/>
<rect x="172.95" y="931.10" width="29.15" height="20.18" fill="#cad9ed"/>
<rect x="201.80" y="931.10" width="29.15" height="20.18" fill="#dce5f4"/>
<rect x="230.65" y="931.10" width="29.15" height="20.18" fill="#fcedf0"/>
<rect x="259.50" y="931.10" width="29.15" height="20.18" fill="#fbced1"/>
<rect x="288.35" y="931.10" width="29.15" height="20.18" fill="#f9989a"/>
<rect x="317.20" y="931.10" width="29.15" height="20.18" fill="#fbced1"/>
<rect x="346.05" y="931.10" width="29.15" height="20.18" fill="#fbced1"/>
<rect x="374.90" y="931.10" width="29.15" height="20.18" fill="#fbced1"/>
<rect x="403.75" y="931.10" width="29.15" height="20.18" fill="#faaaac"/>
<rect x="432.60" y="931.10" width="29.15" height="20.18" fill="#fbced1"/>
<rect x="461.45" y="931.10" width="29.15" height="20.18" fill="#fabbbe"/>
<rect x="490.30" y="931.10" width="29.15" height="20.18" fill="#fbdfe1"/>
<rect x="519.15" y="931.10" width="29.15" height="20.18" fill="#fabbbe"/>
<rect x="548.00" y="931.10" width="29.15" height="20.18" fill="#fbdfe1"/>
<rect x="576.85" y="931.10" width="29.15" height="20.18" fill="#fcfcff"/>
<rect x="605.70" y="931.10" width="29.15" height="20.18" fill="#fbced1"/>
<rect x="634.55" y="931.10" width="29.15" height="20.18" fill="#f87b7d"/>
<rect x="663.40" y="931.10" width="29.15" height="20.18" fill="#f8696b"/>
<rect x="692.25" y="931.10" width="29.15" height="20.18" fill="#f8696b"/>
<rect x="721.10" y="931.10" width="29.15" height="20.18" fill="#f87b7d"/>
<rect x="749.95" y="931.10" width="29.15" height="20.18" fill="#f87b7d"/>
<rect x="86.40" y="950.98" width="29.15" height="20.18" fill="#f87b7d"/>
<rect x="115.25" y="950.98" width="29.15" height="20.18" fill="#f8696b"/>
<rect x="144.10" y="950.98" width="29.15" height="20.18" fill="#fbdfe1"/>
<rect x="172.95" y="950.98" width="29.15" height="20.18" fill="#fbced1"/>
<rect x="201.80" y="950.98" width="29.15" height="20.18" fill="#fbced1"/>
<rect x="230.65" y="950.98" width="29.15" height="20.18" fill="#7ca2d2"/>
<rect x="259.50" y="950.98" width="29.15" height="20.18" fill="#fbdfe1"/>
<rect x="288.35" y="950.98" width="29.15" height="20.18" fill="#fcedf0"/>
<rect x="317.20" y="950.98" width="29.15" height="20.18" fill="#cad9ed"/>
<rect x="346.05" y="950.98" width="29.15" height="20.18" fill="#fbced1"/>
<rect x="374.90" y="950.98" width="29.15" height="20.18" fill="#fbdfe1"/>
<rect x="403.75" y="950.98" width="29.15" height="20.18" fill="#fbdfe1"/>
<rect x="432.60" y="950.98" width="29.15" height="20.18" fill="#ecf1f9"/>
<rect x="461.45" y="950.98" width="29.15" height="20.18" fill="#fcfcff"/>
<rect x="490.30" y="950.98" width="29.15" height="20.18" fill="#a1bcdf"/>
<rect x="519.15" y="950.98" width="29.15" height="20.18" fill="#fcedf0"/>
<rect x="548.00" y="950.98" width="29.15" height="20.18" fill="#cad9ed"/>
<rect x="576.85" y="950.98" width="29.15" height="20.18" fill="#dce5f4"/>
<rect x="605.70" y="950.98" width="29.15" height="20.18" fill="#dce5f4"/>
<rect x="634.55" y="950.98" width="29.15" height="20.18" fill="#fabbbe"/>
<rect x="663.40" y="950.98" width="29.15" height="20.18" fill="#b5cae6"/>
<rect x="692.25" y="950.98" width="29.15" height="20.18" fill="#8eaed8"/>
<rect x="721.10" y="950.98" width="29.15" height="20.18" fill="#f87b7d"/>
<rect x="749.95" y="950.98" width="29.15" height="20.18" fill="#fbdfe1"/>
<rect x="86.40" y="970.86" width="29.15" height="20.18" fill="#fbced1"/>
<rect x="115.25" y="970.86" width="29.15" height="20.18" fill="#fbced1"/>
<rect x="144.10" y="970.86" width="29.15" height="20.18" fill="#fbced1"/>
<rect x="172.95" y="970.86" width="29.15" height="20.18" fill="#fcedf0"/>
<rect x="201.80" y="970.86" width="29.15" height="20.18" fill="#fcfcff"/>
<rect x="230.65" y="970.86" width="29.15" height="20.18" fill="#dce5f4"/>
<rect x="259.50" y="970.86" width="29.15" height="20.18" fill="#ecf1f9"/>
<rect x="288.35" y="970.86" width="29.15" height="20.18" fill="#fbdfe1"/>
<rect x="317.20" y="970.86" width="29.15" height="20.18" fill="#fbced1"/>
<rect x="346.05" y="970.86" width="29.15" height="20.18" fill="#fbced1"/>
<rect x="374.90" y="970.86" width="29.15" height="20.18" fill="#fbced1"/>
<rect x="403.75" y="970.86" width="29.15" height="20.18" fill="#fbced1"/>
<rect x="432.60" y="970.86" width="29.15" height="20.18" fill="#dce5f4"/>
<rect x="461.45" y="970.86" width="29.15" height="20.18" fill="#dce5f4"/>
<rect x="490.30" y="970.86" width="29.15" height="20.18" fill="#faaaac"/>
<rect x="519.15" y="970.86" width="29.15" height="20.18" fill="#fbdfe1"/>
<rect x="548.00" y="970.86" width="29.15" height="20.18" fill="#fbced1"/>
<rect x="576.85" y="970.86" width="29.15" height="20.18" fill="#fbced1"/>
<rect x="605.70" y="970.86" width="29.15" height="20.18" fill="#fabbbe"/>
<rect x="634.55" y="970.86" width="29.15" height="20.18" fill="#fabbbe"/>
<rect x="663.40" y="970.86" width="29.15" height="20.18" fill="#faaaac"/>
<rect x="692.25" y="970.86" width="29.15" height="20.18" fill="#ecf1f9"/>
<rect x="721.10" y="970.86" width="29.15" height="20.18" fill="#fcfcff"/>
<rect x="749.95" y="970.86" width="29.15" height="20.18" fill="#fbdfe1"/>
<rect x="86.40" y="990.74" width="29.15" height="20.18" fill="#5f8dc8"/>
<rect x="115.25" y="990.74" width="29.15" height="20.18" fill="#dce5f4"/>
<rect x="144.10" y="990.74" width="29.15" height="20.18" fill="#cad9ed"/>
<rect x="172.95" y="990.74" width="29.15" height="20.18" fill="#fcfcff"/>
<rect x="201.80" y="990.74" width="29.15" height="20.18" fill="#fbced1"/>
<rect x="230.65" y="990.74" width="29.15" height="20.18" fill="#fbced1"/>
<rect x="259.50" y="990.74" width="29.15" height="20.18" fill="#fabbbe"/>
<rect x="288.35" y="990.74" width="29.15" height="20.18" fill="#a1bcdf"/>
<rect x="317.20" y="990.74" width="29.15" height="20.18" fill="#fbced1"/>
<rect x="346.05" y="990.74" width="29.15" height="20.18" fill="#ecf1f9"/>
<rect x="374.90" y="990.74" width="29.15" height="20.18" fill="#b5cae6"/>
<rect x="403.75" y="990.74" width="29.15" height="20.18" fill="#fcfcff"/>
<rect x="432.60" y="990.74" width="29.15" height="20.18" fill="#fbced1"/>
<rect x="461.45" y="990.74" width="29.15" height="20.18" fill="#f8696b"/>
<rect x="490.30" y="990.74" width="29.15" height="20.18" fill="#a1bcdf"/>
<rect x="519.15" y="990.74" width="29.15" height="20.18" fill="#b5cae6"/>
<rect x="548.00" y="990.74" width="29.15" height="20.18" fill="#cad9ed"/>
<rect x="576.85" y="990.74" width="29.15" height="20.18" fill="#7ca2d2"/>
<rect x="605.70" y="990.74" width="29.15" height="20.18" fill="#cad9ed"/>
<rect x="634.55" y="990.74" width="29.15" height="20.18" fill="#faaaac"/>
<rect x="663.40" y="990.74" width="29.15" height="20.18" fill="#faaaac"/>
<rect x="692.25" y="990.74" width="29.15" height="20.18" fill="#f9888a"/>
<rect x="721.10" y="990.74" width="29.15" height="20.18" fill="#faaaac"/>
<rect x="749.95" y="990.74" width="29.15" height="20.18" fill="#fbced1"/>
<rect x="86.40" y="1010.62" width="29.15" height="20.18" fill="#fcfcff"/>
<rect x="115.25" y="1010.62" width="29.15" height="20.18" fill="#fbdfe1"/>
<rect x="144.10" y="1010.62" width="29.15" height="20.18" fill="#fcfcff"/>
<rect x="172.95" y="1010.62" width="29.15" height="20.18" fill="#fbdfe1"/>
<rect x="201.80" y="1010.62" width="29.15" height="20.18" fill="#fbdfe1"/>
<rect x="230.65" y="1010.62" width="29.15" height="20.18" fill="#a1bcdf"/>
<rect x="259.50" y="1010.62" width="29.15" height="20.18" fill="#a1bcdf"/>
<rect x="288.35" y="1010.62" width="29.15" height="20.18" fill="#f8696b"/>
<rect x="317.20" y="1010.62" width="29.15" height="20.18" fill="#fabbbe"/>
<rect x="346.05" y="1010.62" width="29.15" height="20.18" fill="#b5cae6"/>
<rect x="374.90" y="1010.62" width="29.15" height="20.18" fill="#7ca2d2"/>
<rect x="403.75" y="1010.62" width="29.15" height="20.18" fill="#fbdfe1"/>
<rect x="432.60" y="1010.62" width="29.15" height="20.18" fill="#7ca2d2"/>
<rect x="461.45" y="1010.62" width="29.15" height="20.18" fill="#ecf1f9"/>
<rect x="490.30" y="1010.62" width="29.15" height="20.18" fill="#fcfcff"/>
<rect x="519.15" y="1010.62" width="29.15" height="20.18" fill="#fcedf0"/>
<rect x="548.00" y="1010.62" width="29.15" height="20.18" fill="#b5cae6"/>
<rect x="576.85" y="1010.62" width="29.15" height="20.18" fill="#6d98cd"/>
<rect x="605.70" y="1010.62" width="29.15" height="20.18" fill="#5f8dc8"/>
<rect x="634.55" y="1010.62" width="29.15" height="20.18" fill="#faaaac"/>
<rect x="663.40" y="1010.62" width="29.15" height="20.18" fill="#fcedf0"/>
<rect x="692.25" y="1010.62" width="29.15" height="20.18" fill="#dce5f4"/>
<rect x="721.10" y="1010.62" width="29.15" height="20.18" fill="#a1bcdf"/>
<rect x="749.95" y="1010.62" width="29.15" height="20.18" fill="#fbdfe1"/>
<rect x="86.40" y="1030.50" width="29.15" height="20.18" fill="#fbced1"/>
<rect x="115.25" y="1030.50" width="29.15" height="20.18" fill="#fbced1"/>
<rect x="144.10" y="1030.50" width="29.15" height="20.18" fill="#ecf1f9"/>
<rect x="172.95" y="1030.50" width="29.15" height="20.18" fill="#8eaed8"/>
<rect x="201.80" y="1030.50" width="29.15" height="20.18" fill="#a1bcdf"/>
<rect x="230.65" y="1030.50" width="29.15" height="20.18" fill="#fcfcff"/>
<rect x="259.50" y="1030.50" width="29.15" height="20.18" fill="#a1bcdf"/>
<rect x="288.35" y="1030.50" width="29.15" height="20.18" fill="#fcedf0"/>
<rect x="317.20" y="1030.50" width="29.15" height="20.18" fill="#b5cae6"/>
<rect x="346.05" y="1030.50" width="29.15" height="20.18" fill="#a1bcdf"/>
<rect x="374.90" y="1030.50" width="29.15" height="20.18" fill="#ecf1f9"/>
<rect x="403.75" y="1030.50" width="29.15" height="20.18" fill="#fbced1"/>
<rect x="432.60" y="1030.50" width="29.15" height="20.18" fill="#fbced1"/>
<rect x="461.45" y="1030.50" width="29.15" height="20.18" fill="#a1bcdf"/>
<rect x="490.30" y="1030.50" width="29.15" height="20.18" fill="#5f8dc8"/>
<rect x="519.15" y="1030.50" width="29.15" height="20.18" fill="#8eaed8"/>
<rect x="548.00" y="1030.50" width="29.15" height="20.18" fill="#7ca2d2"/>
<rect x="576.85" y="1030.50" width="29.15" height="20.18" fill="#a1bcdf"/>
<rect x="605.70" y="1030.50" width="29.15" height="20.18" fill="#fcfcff"/>
<rect x="634.55" y="1030.50" width="29.15" height="20.18" fill="#fabbbe"/>
<rect x="663.40" y="1030.50" width="29.15" height="20.18" fill="#faaaac"/>
<rect x="692.25" y="1030.50" width="29.15" height="20.18" fill="#f9989a"/>
<rect x="721.10" y="1030.50" width="29.15" height="20.18" fill="#f8696b"/>
<rect x="749.95" y="1030.50" width="29.15" height="20.18" fill="#f8696b"/>
<rect x="86.40" y="1050.38" width="29.15" height="20.18" fill="#f8696b"/>
<rect x="115.25" y="1050.38" width="29.15" height="20.18" fill="#f87b7d"/>
<rect x="144.10" y="1050.38" width="29.15" height="20.18" fill="#fabbbe"/>
<rect x="172.95" y="1050.38" width="29.15" height="20.18" fill="#fabbbe"/>
<rect x="201.80" y="1050.38" width="29.15" height="20.18" fill="#fbdfe1"/>
<rect x="230.65" y="1050.38" width="29.15" height="20.18" fill="#fcfcff"/>
<rect x="259.50" y="1050.38" width="29.15" height="20.18" fill="#dce5f4"/>
<rect x="288.35" y="1050.38" width="29.15" height="20.18" fill="#fcfcff"/>
<rect x="317.20" y="1050.38" width="29.15" height="20.18" fill="#fcfcff"/>
<rect x="346.05" y="1050.38" width="29.15" height="20.18" fill="#b5cae6"/>
<rect x="374.90" y="1050.38" width="29.15" height="20.18" fill="#ecf1f9"/>
<rect x="403.75" y="1050.38" width="29.15" height="20.18" fill="#ecf1f9"/>
<rect x="432.60" y="1050.38" width="29.15" height="20.18" fill="#fbced1"/>
<rect x="461.45" y="1050.38" width="29.15" height="20.18" fill="#5f8dc8"/>
<rect x="490.30" y="1050.38" width="29.15" height="20.18" fill="#8eaed8"/>
<rect x="519.15" y="1050.38" width="29.15" height="20.18" fill="#ecf1f9"/>
<rect x="548.00" y="1050.38" width="29.15" height="20.18" fill="#dce5f4"/>
<rect x="576.85" y="1050.38" width="29.15" height="20.18" fill="#b5cae6"/>
<rect x="605.70" y="1050.38" width="29.15" height="20.18" fill="#a1bcdf"/>
<rect x="634.55" y="1050.38" width="29.15" height="20.18" fill="#dce5f4"/>
<rect x="663.40" y="1050.38" width="29.15" height="20.18" fill="#faaaac"/>
<rect x="692.25" y="1050.38" width="29.15" height="20.18" fill="#fbced1"/>
<rect x="721.10" y="1050.38" width="29.15" height="20.18" fill="#fbced1"/>
<rect x="749.95" y="1050.38" width="29.15" height="20.18" fill="#fcedf0"/>
</g>
<g stroke="#111" stroke-width="1">
<line x1="85.90" y1="36.50" x2="779.30" y2="36.50"/>
<line x1="85.90" y1="56.38" x2="779.30" y2="56.38"/>
<line x1="85.90" y1="76.26" x2="779.30" y2="76.26"/>
<line x1="85.90" y1="96.14" x2="779.30" y2="96.14"/>
<line x1="85.90" y1="116.02" x2="779.30" y2="116.02"/>
<line x1="85.90" y1="135.90" x2="779.30" y2="135.90"/>
<line x1="85.90" y1="155.78" x2="779.30" y2="155.78"/>
<line x1="85.90" y1="175.66" x2="779.30" y2="175.66"/>
<line x1="85.90" y1="195.54" x2="779.30" y2="195.54"/>
<line x1="85.90" y1="215.42" x2="779.30" y2="215.42"/>
<line x1="85.90" y1="235.30" x2="779.30" y2="235.30"/>
<line x1="85.90" y1="255.18" x2="779.30" y2="255.18"/>
<line x1="85.90" y1="275.06" x2="779.30" y2="275.06"/>
<line x1="85.90" y1="294.94" x2="779.30" y2="294.94"/>
<line x1="85.90" y1="314.82" x2="779.30" y2="314.82"/>
<line x1="85.90" y1="334.70" x2="779.30" y2="334.70"/>
<line x1="85.90" y1="354.58" x2="779.30" y2="354.58"/>
<line x1="85.90" y1="374.46" x2="779.30" y2="374.46"/>
<line x1="85.90" y1="394.34" x2="779.30" y2="394.34"/>
<line x1="85.90" y1="414.22" x2="779.30" y2="414.22"/>
<line x1="85.90" y1="434.10" x2="779.30" y2="434.10"/>
<line x1="85.90" y1="453.98" x2="779.30" y2="453.98"/>
<line x1="85.90" y1="473.86" x2="779.30" y2="473.86"/>
<line x1="85.90" y1="493.74" x2="779.30" y2="493.74"/>
<line x1="85.90" y1="513.62" x2="779.30" y2="513.62"/>
<line x1="85.90" y1="533.50" x2="779.30" y2="533.50"/>
<line x1="85.90" y1="553.38" x2="779.30" y2="553.38"/>
<line x1="85.90" y1="573.26" x2="779.30" y2="573.26"/>
<line x1="85.90" y1="593.14" x2="779.30" y2="593.14"/>
<line x1="85.90" y1="613.02" x2="779.30" y2="613.02"/>
<line x1="85.90" y1="632.90" x2="779.30" y2="632.90"/>
<line x1="85.90" y1="652.78" x2="779.30" y2="652.78"/>
<line x1="85.90" y1="672.66" x2="779.30" y2="672.66"/>
<line x1="85.90" y1="692.54" x2="779.30" y2="692.54"/>
<line x1="85.90" y1="712.42" x2="779.30" y2="712.42"/>
<line x1="85.90" y1="732.30" x2="779.30" y2="732.30"/>
<line x1="85.90" y1="752.18" x2="779.30" y2="752.18"/>
<line x1="85.90" y1="772.06" x2="779.30" y2="772.06"/>
<line x1="85.90" y1="791.94" x2="779.30" y2="791.94"/>
<line x1="85.90" y1="811.82" x2="779.30" y2="811.82"/>
<line x1="85.90" y1="831.70" x2="779.30" y2="831.70"/>
<line x1="85.90" y1="851.58" x2="779.30" y2="851.58"/>
<line x1="85.90" y1="871.46" x2="779.30" y2="871.46"/>
<line x1="85.90" y1="891.34" x2="779.30" y2="891.34"/>
<line x1="85.90" y1="911.22" x2="779.30" y2="911.22"/>
<line x1="85.90" y1="931.10" x2="779.30" y2="931.10"/>
<line x1="85.90" y1="950.98" x2="779.30" y2="950.98"/>
<line x1="85.90" y1="970.86" x2="779.30" y2="970.86"/>
<line x1="85.90" y1="990.74" x2="779.30" y2="990.74"/>
<line x1="85.90" y1="1010.62" x2="779.30" y2="1010.62"/>
<line x1="85.90" y1="1030.50" x2="779.30" y2="1030.50"/>
<line x1="85.90" y1="1050.38" x2="779.30" y2="1050.38"/>
<line x1="85.90" y1="1070.26" x2="779.30" y2="1070.26"/>
<line x1="86.40" y1="36.50" x2="86.40" y2="1070.26"/>
<line x1="115.25" y1="36.50" x2="115.25" y2="1070.26"/>
<line x1="144.10" y1="36.50" x2="144.10" y2="1070.26"/>
<line x1="172.95" y1="36.50" x2="172.95" y2="1070.26"/>
<line x1="201.80" y1="36.50" x2="201.80" y2="1070.26"/>
<line x1="230.65" y1="36.50" x2="230.65" y2="1070.26"/>
<line x1="259.50" y1="36.50" x2="259.50" y2="1070.26"/>
<line x1="288.35" y1="36.50" x2="288.35" y2="1070.26"/>
<line x1="317.20" y1="36.50" x2="317.20" y2="1070.26"/>
<line x1="346.05" y1="36.50" x2="346.05" y2="1070.26"/>
<line x1="374.90" y1="36.50" x2="374.90" y2="1070.26"/>
<line x1="403.75" y1="36.50" x2="403.75" y2="1070.26"/>
<line x1="432.60" y1="36.50" x2="432.60" y2="1070.26"/>
<line x1="461.45" y1="36.50" x2="461.45" y2="1070.26"/>
<line x1="490.30" y1="36.50" x2="490.30" y2="1070.26"/>
<line x1="519.15" y1="36.50" x2="519.15" y2="1070.26"/>
<line x1="548.00" y1="36.50" x2="548.00" y2="1070.26"/>
<line x1="576.85" y1="36.50" x2="576.85" y2="1070.26"/>
<line x1="605.70" y1="36.50" x2="605.70" y2="1070.26"/>
<line x1="634.55" y1="36.50" x2="634.55" y2="1070.26"/>
<line x1="663.40" y1="36.50" x2="663.40" y2="1070.26"/>
<line x1="692.25" y1="36.50" x2="692.25" y2="1070.26"/>
<line x1="721.10" y1="36.50" x2="721.10" y2="1070.26"/>
<line x1="749.95" y1="36.50" x2="749.95" y2="1070.26"/>
<line x1="778.80" y1="36.50" x2="778.80" y2="1070.26"/>
</g>
<g stroke="#111" stroke-width="1.3">
<line x1="86.70" y1="3" x2="86.70" y2="36.50"/>
<line x1="432.80" y1="3" x2="432.80" y2="36.50"/>
<line x1="634.75" y1="3" x2="634.75" y2="36.50"/>
<line x1="778.50" y1="3" x2="778.50" y2="36.50"/>
</g>
<g class="rl" transform="scale(0.925 1)">
<text x="1.08" y="54.60">ZmbHLH44</text>
<text x="1.08" y="74.44">ZmbHLH144</text>
<text x="1.08" y="94.29">ZmbHLH81</text>
<text x="1.08" y="114.13">ZmbHLH203</text>
<text x="1.08" y="133.98">ZmbHLH178</text>
<text x="1.08" y="153.82">ZmbHLH125</text>
<text x="1.08" y="173.67">ZmbHLH196</text>
<text x="1.08" y="193.51">ZmbHLH180</text>
<text x="1.08" y="213.36">ZmbHLH148</text>
<text x="1.08" y="233.20">ZmbHLH163</text>
<text x="1.08" y="253.05">ZmbHLH66</text>
<text x="1.08" y="272.89">ZmbHLH141</text>
<text x="1.08" y="292.74">ZmbHLH114</text>
<text x="1.08" y="312.59">ZmbHLH136</text>
<text x="1.08" y="332.43">ZmbHLH153</text>
<text x="1.08" y="352.27">ZmbHLH89</text>
<text x="1.08" y="372.12">ZmbHLH208</text>
<text x="1.08" y="391.97">ZmbHLH54</text>
<text x="1.08" y="411.81">ZmbHLH152</text>
<text x="1.08" y="431.65">ZmbHLH192</text>
<text x="1.08" y="451.50">ZmbHLH41</text>
<text x="1.08" y="471.35">ZmbHLH68</text>
<text x="1.08" y="491.19">ZmbHLH117</text>
<text x="1.08" y="511.03">ZmbHLH48</text>
<text x="1.08" y="530.88">ZmbHLH129</text>
<text x="1.08" y="550.73">ZmbHLH33</text>
<text x="1.08" y="570.57">ZmbHLH182</text>
<text x="1.08" y="590.41">ZmbHLH38</text>
<text x="1.08" y="610.26">ZmbHLH173</text>
<text x="1.08" y="630.11">ZmbHLH51</text>
<text x="1.08" y="649.95">ZmbHLH97</text>
<text x="1.08" y="669.79">ZmbHLH27</text>
<text x="1.08" y="689.64">ZmbHLH204</text>
<text x="1.08" y="709.49">ZmbHLH21</text>
<text x="1.08" y="729.33">ZmbHLH36</text>
<text x="1.08" y="749.17">ZmbHLH37</text>
<text x="1.08" y="769.02">ZmbHLH160</text>
<text x="1.08" y="788.87">ZmbHLH120</text>
<text x="1.08" y="808.71">ZmbHLH113</text>
<text x="1.08" y="828.55">ZmbHLH96</text>
<text x="1.08" y="848.40">ZmbHLH95</text>
<text x="1.08" y="868.25">ZmbHLH176</text>
<text x="1.08" y="888.09">ZmbHLH69</text>
<text x="1.08" y="907.93">ZmbHLH93</text>
<text x="1.08" y="927.78">ZmbHLH78</text>
<text x="1.08" y="947.62">ZmbHLH79</text>
<text x="1.08" y="967.47">ZmbHLH128</text>
<text x="1.08" y="987.31">ZmbHLH12</text>
<text x="1.08" y="1007.16">ZmbHLH169</text>
<text x="1.08" y="1027.00">ZmbHLH137</text>
<text x="1.08" y="1046.85">ZmbHLH110</text>
<text x="1.08" y="1066.69">ZmbHLH186</text>
</g>
<g class="hn">
<text x="101.23" y="32.9">2</text>
<text x="130.08" y="32.9">4</text>
<text x="158.93" y="32.9">6</text>
<text x="187.78" y="32.9">8</text>
<text x="216.63" y="32.9">10</text>
<text x="245.48" y="32.9">12</text>
<text x="274.32" y="32.9">14</text>
<text x="303.18" y="32.9">16</text>
<text x="332.03" y="32.9">18</text>
<text x="360.88" y="32.9">20</text>
<text x="389.72" y="32.9">22</text>
<text x="418.57" y="32.9">24</text>
<text x="447.43" y="32.9">12</text>
<text x="476.28" y="32.9">14</text>
<text x="505.13" y="32.9">16</text>
<text x="533.97" y="32.9">18</text>
<text x="562.82" y="32.9">20</text>
<text x="591.67" y="32.9">22</text>
<text x="620.52" y="32.9">24</text>
<text x="649.37" y="32.9">16</text>
<text x="678.22" y="32.9">18</text>
<text x="707.07" y="32.9">20</text>
<text x="735.92" y="32.9">22</text>
<text x="764.77" y="32.9">24</text>
</g>
<text class="gl" x="16.8" y="26.7">Name</text>
<text class="gl" x="216.3" y="14.1">Whole</text>
<text class="gl" x="270" y="14.1">seed</text>
<text class="gl" x="498" y="14.1">Endosperm</text>
<text class="gl" x="679.8" y="14.1">Embryo</text>
<line x1="87.20" y1="9.70" x2="208.40" y2="9.70" stroke="#111" stroke-width="1"/><path d="M87.20 9.70 L125.20 7.20 L117.98 9.70 L125.20 12.20 Z" fill="#111"/>
<line x1="308.90" y1="10.20" x2="431.30" y2="10.20" stroke="#111" stroke-width="1"/><path d="M431.30 10.20 L393.30 7.80 L400.52 10.20 L393.30 12.60 Z" fill="#111"/>
<line x1="433.60" y1="10.20" x2="485.10" y2="10.20" stroke="#111" stroke-width="1"/><path d="M433.60 10.20 L448.90 7.90 L445.99 10.20 L448.90 12.50 Z" fill="#111"/>
<line x1="581.40" y1="10.20" x2="633.60" y2="10.20" stroke="#111" stroke-width="1"/><path d="M633.60 10.20 L618.30 7.90 L621.21 10.20 L618.30 12.50 Z" fill="#111"/>
<line x1="635.60" y1="10.20" x2="669.80" y2="10.20" stroke="#111" stroke-width="1"/><path d="M635.60 10.20 L648.60 8.00 L646.13 10.20 L648.60 12.40 Z" fill="#111"/>
<line x1="744.20" y1="10.20" x2="777.70" y2="10.20" stroke="#111" stroke-width="1"/><path d="M777.70 10.20 L764.70 8.00 L767.17 10.20 L764.70 12.40 Z" fill="#111"/>
<rect x="86" y="1075.8" width="88.7" height="14.5" fill="url(#gb)"/>
<rect x="211.9" y="1075.8" width="86.7" height="14.5" fill="url(#gr)"/>
<text class="lg" x="77.6" y="1104">low</text>
<text class="lg" x="287.3" y="1104">high</text>
</svg></body></html>
